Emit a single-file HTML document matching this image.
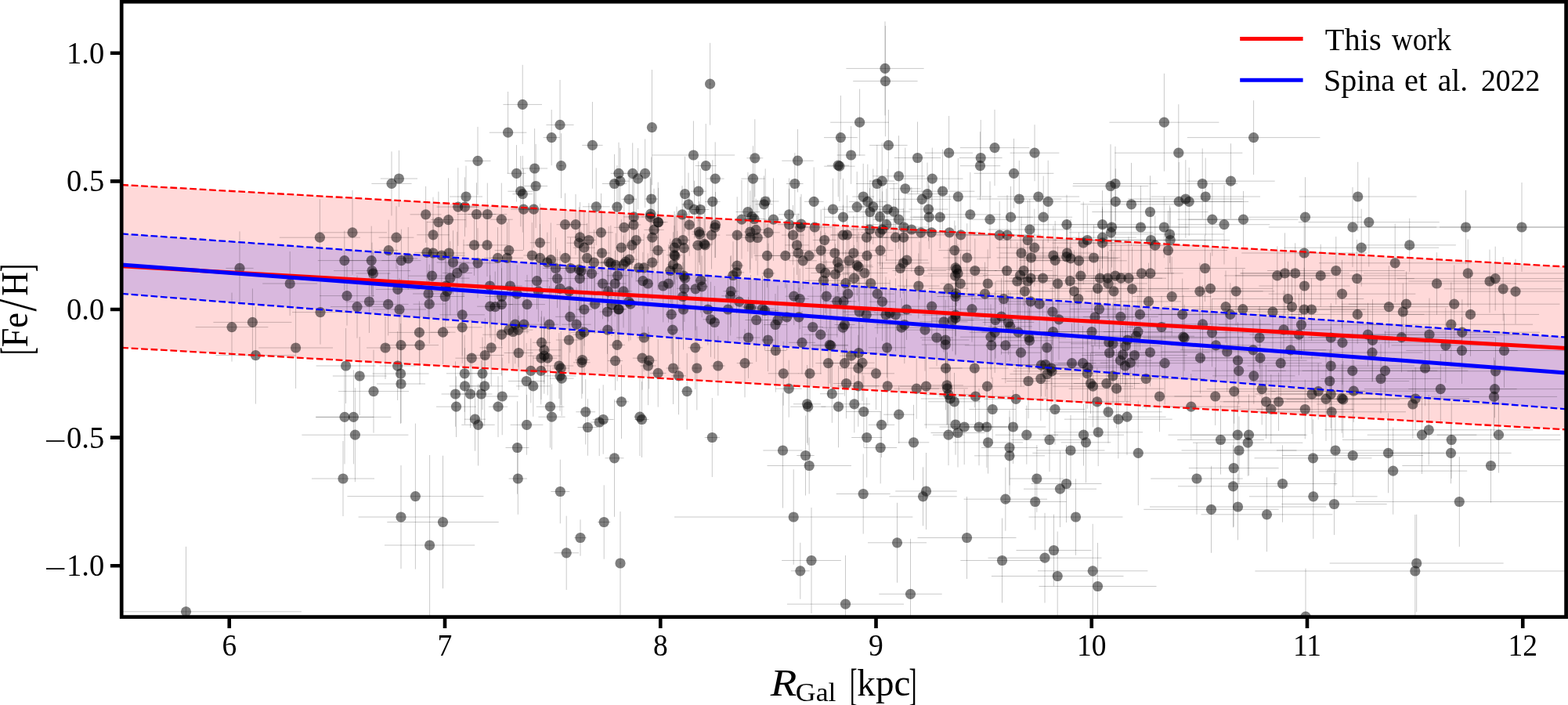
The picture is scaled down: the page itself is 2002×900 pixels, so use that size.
<!DOCTYPE html>
<html lang="en"><head><meta charset="utf-8"><title>[Fe/H] vs R_Gal</title>
<style>html,body{margin:0;padding:0;background:#fff;}body{width:2002px;height:900px;overflow:hidden;}svg{display:block;}text{font-family:"Liberation Serif",serif;fill:#000;}</style></head><body>
<svg width="2002" height="900" viewBox="0 0 2002 900">
<rect width="2002" height="900" fill="#fff"/>
<defs><clipPath id="ax"><rect x="155.2" y="2.2" width="1844.4" height="785.4"/></clipPath></defs>
<g clip-path="url(#ax)">
<polygon points="155.2,236.0 1999.6,340.5 1999.6,548.4 155.2,443.9" fill="#ff0000" fill-opacity="0.15"/>
<polygon points="155.2,298.4 1999.6,430.5 1999.6,522.3 155.2,374.9" fill="#0000ff" fill-opacity="0.15"/>
<g fill="none" stroke="#000" stroke-opacity="0.21" stroke-width="1">
<path d="M642.4 133.4H692.0"/><path d="M667.2 82.8V184.0"/>
<path d="M624.8 169.2H672.4"/><path d="M648.6 117.0V221.4"/>
<path d="M697.4 159.4H732.6"/><path d="M715.0 102.0V216.8"/>
<path d="M693.6 175.6H714.8"/><path d="M704.2 140.0V211.2"/>
<path d="M743.2 185.4H769.6"/><path d="M756.4 130.0V240.8"/>
<path d="M831.4 162.6H833.4"/><path d="M832.4 89.0V236.2"/>
<path d="M905.6 107.2H907.6"/><path d="M906.6 54.8V159.6"/>
<path d="M832.6 198.0H938.2"/><path d="M885.4 154.4V241.6"/>
<path d="M1080.4 87.4H1179.6"/><path d="M1130.0 27.4V147.4"/>
<path d="M1089.2 103.6H1171.6"/><path d="M1130.4 33.0V174.2"/>
<path d="M1060.2 156.2H1135.0"/><path d="M1097.6 113.6V198.8"/>
<path d="M1052.0 175.6H1094.8"/><path d="M1073.4 122.0V229.2"/>
<path d="M1110.2 185.4H1158.6"/><path d="M1134.4 140.0V230.8"/>
<path d="M1181.0 195.2H1242.2"/><path d="M1211.6 148.0V242.4"/>
<path d="M1225.8 188.6H1314.2"/><path d="M1270.0 140.0V237.2"/>
<path d="M1289.6 195.2H1352.4"/><path d="M1321.0 159.2V231.2"/>
<path d="M1068.6 198.0H1104.6"/><path d="M1086.6 161.0V235.0"/>
<path d="M1416.4 156.2H1556.4"/><path d="M1486.4 93.8V218.6"/>
<path d="M1515.8 175.6H1685.4"/><path d="M1600.6 128.2V223.0"/>
<path d="M1423.2 195.2H1586.4"/><path d="M1504.8 133.2V257.2"/>
<path d="M485.8 228.0H533.0"/><path d="M509.4 192.0V264.0"/>
<path d="M474.4 234.4H525.6"/><path d="M500.0 193.4V275.4"/>
<path d="M523.6 273.8H563.6"/><path d="M543.6 237.8V309.8"/>
<path d="M356.8 303.2H460.0"/><path d="M408.4 254.2V352.2"/>
<path d="M406.0 296.8H494.0"/><path d="M450.0 242.8V350.8"/>
<path d="M483.6 303.2H528.4"/><path d="M506.0 263.2V343.2"/>
<path d="M484.2 319.6H508.2"/><path d="M496.2 280.6V358.6"/>
<path d="M405.8 332.6H473.8"/><path d="M439.8 294.6V370.6"/>
<path d="M440.2 332.6H508.2"/><path d="M474.2 288.6V376.6"/>
<path d="M487.4 332.6H537.4"/><path d="M512.4 292.6V372.6"/>
<path d="M509.2 330.0H533.2"/><path d="M521.2 290.0V370.0"/>
<path d="M529.0 322.4H561.0"/><path d="M545.0 282.4V362.4"/>
<path d="M426.0 345.6H524.0"/><path d="M475.0 309.6V381.6"/>
<path d="M454.4 349.0H498.4"/><path d="M476.4 319.0V379.0"/>
<path d="M288.4 342.4H323.6"/><path d="M306.0 295.4V389.4"/>
<path d="M335.2 362.0H405.2"/><path d="M370.2 321.0V403.0"/>
<path d="M479.8 369.4H535.8"/><path d="M507.8 339.4V399.4"/>
<path d="M408.0 377.6H478.0"/><path d="M443.0 339.6V415.6"/>
<path d="M527.0 375.0H567.0"/><path d="M547.0 345.0V405.0"/>
<path d="M441.4 385.0H501.4"/><path d="M471.4 345.0V425.0"/>
<path d="M422.0 391.6H490.0"/><path d="M456.0 351.6V431.6"/>
<path d="M469.6 388.4H521.6"/><path d="M495.6 348.4V428.4"/>
<path d="M476.0 395.0H544.0"/><path d="M510.0 355.0V435.0"/>
<path d="M373.0 398.6H445.0"/><path d="M409.0 357.6V439.6"/>
<path d="M272.4 411.4H372.4"/><path d="M322.4 368.4V454.4"/>
<path d="M249.6 417.6H342.4"/><path d="M296.0 373.6V461.6"/>
<path d="M496.4 424.4H574.4"/><path d="M535.4 384.4V464.4"/>
<path d="M330.2 444.0H425.0"/><path d="M377.6 392.0V496.0"/>
<path d="M468.0 444.0H516.0"/><path d="M492.0 404.0V484.0"/>
<path d="M492.0 440.6H532.0"/><path d="M512.0 390.6V490.6"/>
<path d="M512.0 440.6H560.0"/><path d="M536.0 390.6V490.6"/>
<path d="M275.4 453.6H377.4"/><path d="M326.4 391.6V515.6"/>
<path d="M403.6 467.0H479.6"/><path d="M441.6 419.0V515.0"/>
<path d="M484.6 467.0H530.6"/><path d="M507.6 423.0V511.0"/>
<path d="M475.6 477.0H547.6"/><path d="M511.6 413.0V541.0"/>
<path d="M424.8 480.0H493.6"/><path d="M459.2 430.0V530.0"/>
<path d="M481.0 490.0H543.0"/><path d="M512.0 440.0V540.0"/>
<path d="M432.0 499.6H522.0"/><path d="M477.0 446.6V552.6"/>
<path d="M403.0 532.4H477.0"/><path d="M440.0 472.4V592.4"/>
<path d="M403.4 532.4H499.4"/><path d="M451.4 472.4V592.4"/>
<path d="M385.4 555.2H521.4"/><path d="M453.4 495.2V615.2"/>
<path d="M398.0 611.0H478.0"/><path d="M438.0 563.0V659.0"/>
<path d="M443.4 633.6H617.4"/><path d="M530.4 540.6V726.6"/>
<path d="M457.6 660.0H566.4"/><path d="M512.0 594.0V726.0"/>
<path d="M491.0 696.0H606.2"/><path d="M548.6 581.0V811.0"/>
<path d="M90.1 780.8H384.9"/><path d="M237.5 697.8V863.8"/>
<path d="M593.5 205.4H626.5"/><path d="M610.0 161.9V248.9"/>
<path d="M647.5 221.3H671.5"/><path d="M659.5 185.1V257.5"/>
<path d="M666.1 215.0H699.1"/><path d="M682.6 164.1V265.9"/>
<path d="M713.5 211.6H719.5"/><path d="M716.5 170.2V253.0"/>
<path d="M779.6 221.3H800.4"/><path d="M790.0 181.8V260.8"/>
<path d="M796.5 221.3H818.9"/><path d="M807.7 182.4V260.2"/>
<path d="M816.5 221.3H830.7"/><path d="M823.6 177.5V265.1"/>
<path d="M803.8 228.2H825.4"/><path d="M814.6 189.1V267.3"/>
<path d="M779.9 231.2H803.7"/><path d="M791.8 188.8V273.6"/>
<path d="M768.8 234.5H800.2"/><path d="M784.5 196.9V272.1"/>
<path d="M669.1 237.5H699.1"/><path d="M684.1 183.9V291.1"/>
<path d="M648.4 244.2H681.2"/><path d="M664.8 199.1V289.3"/>
<path d="M654.4 247.7H680.2"/><path d="M667.3 198.8V296.6"/>
<path d="M574.0 251.0H616.0"/><path d="M595.0 211.6V290.4"/>
<path d="M793.6 254.3H812.8"/><path d="M803.2 217.9V290.7"/>
<path d="M823.3 254.0H840.1"/><path d="M831.7 200.6V307.4"/>
<path d="M743.8 263.8H778.6"/><path d="M761.2 214.4V313.2"/>
<path d="M780.5 264.1H795.3"/><path d="M787.9 211.2V317.0"/>
<path d="M557.5 264.1H612.1"/><path d="M584.8 214.2V314.0"/>
<path d="M577.5 264.1H609.5"/><path d="M593.5 226.3V301.9"/>
<path d="M652.2 267.1H684.8"/><path d="M668.5 215.2V319.0"/>
<path d="M663.8 267.1H699.2"/><path d="M681.5 217.8V316.4"/>
<path d="M823.1 273.2H838.5"/><path d="M830.8 227.8V318.6"/>
<path d="M819.2 276.8H841.2"/><path d="M830.2 226.0V327.6"/>
<path d="M583.6 273.5H633.4"/><path d="M608.5 233.3V313.7"/>
<path d="M597.3 273.5H647.3"/><path d="M622.3 233.6V313.4"/>
<path d="M796.3 276.9H822.1"/><path d="M809.2 230.9V322.9"/>
<path d="M625.9 280.2H654.7"/><path d="M640.3 233.6V326.8"/>
<path d="M550.2 280.6H594.8"/><path d="M572.5 227.3V333.9"/>
<path d="M544.9 283.6H574.9"/><path d="M559.9 244.6V322.6"/>
<path d="M827.9 283.6H852.5"/><path d="M840.2 232.6V334.6"/>
<path d="M710.5 286.7H732.5"/><path d="M721.5 246.6V326.8"/>
<path d="M720.4 286.7H749.6"/><path d="M735.0 247.9V325.5"/>
<path d="M799.8 287.0H818.2"/><path d="M809.0 250.1V323.9"/>
<path d="M783.9 290.3H809.7"/><path d="M796.8 252.9V327.7"/>
<path d="M822.3 293.4H847.7"/><path d="M835.0 240.8V346.0"/>
<path d="M752.2 296.8H782.8"/><path d="M767.5 246.9V346.7"/>
<path d="M532.3 299.8H573.7"/><path d="M553.0 251.6V348.0"/>
<path d="M723.9 302.8H757.1"/><path d="M740.5 258.1V347.5"/>
<path d="M742.8 306.5H760.8"/><path d="M751.8 259.2V353.8"/>
<path d="M824.6 303.2H841.0"/><path d="M832.8 256.2V350.2"/>
<path d="M802.4 306.5H822.0"/><path d="M812.2 253.4V359.6"/>
<path d="M676.7 309.8H702.3"/><path d="M689.5 260.0V359.6"/>
<path d="M723.3 310.2H755.3"/><path d="M739.3 264.2V356.2"/>
<path d="M591.4 312.9H619.6"/><path d="M605.5 273.9V351.9"/>
<path d="M595.6 312.9H648.4"/><path d="M622.0 272.7V353.1"/>
<path d="M798.8 313.2H814.8"/><path d="M806.8 272.0V354.4"/>
<path d="M731.8 316.2H759.8"/><path d="M745.8 270.8V361.6"/>
<path d="M786.1 316.2H800.5"/><path d="M793.3 280.1V352.3"/>
<path d="M631.6 319.6H668.0"/><path d="M649.8 280.3V358.9"/>
<path d="M830.2 319.6H849.8"/><path d="M840.0 269.2V370.0"/>
<path d="M536.9 323.0H569.1"/><path d="M553.0 277.9V368.1"/>
<path d="M552.7 323.0H593.7"/><path d="M573.2 272.8V373.2"/>
<path d="M533.8 326.0H593.8"/><path d="M563.8 282.5V369.5"/>
<path d="M758.3 323.0H778.7"/><path d="M768.5 271.2V374.8"/>
<path d="M668.3 326.0H690.3"/><path d="M679.3 284.1V367.9"/>
<path d="M618.0 329.3H653.0"/><path d="M635.5 290.1V368.5"/>
<path d="M626.7 329.3H668.3"/><path d="M647.5 284.0V374.6"/>
<path d="M676.2 329.3H702.8"/><path d="M689.5 285.9V372.7"/>
<path d="M704.9 329.3H738.7"/><path d="M721.8 287.5V371.1"/>
<path d="M740.3 329.3H758.7"/><path d="M749.5 285.0V373.6"/>
<path d="M691.1 331.7H715.5"/><path d="M703.3 284.5V378.9"/>
<path d="M686.4 335.0H711.2"/><path d="M698.8 296.6V373.4"/>
<path d="M741.7 335.0H775.3"/><path d="M758.5 293.1V376.9"/>
<path d="M766.9 334.7H787.5"/><path d="M777.2 289.0V380.4"/>
<path d="M766.1 335.9H793.5"/><path d="M779.8 287.8V384.0"/>
<path d="M771.9 338.3H800.5"/><path d="M786.2 297.6V379.0"/>
<path d="M788.5 334.2H809.5"/><path d="M799.0 291.6V376.8"/>
<path d="M792.5 331.2H814.5"/><path d="M803.5 284.9V377.5"/>
<path d="M783.7 337.7H808.3"/><path d="M796.0 300.5V374.9"/>
<path d="M824.3 335.0H841.3"/><path d="M832.8 286.2V383.8"/>
<path d="M808.7 341.8H822.3"/><path d="M815.5 292.4V391.2"/>
<path d="M810.9 341.8H833.5"/><path d="M822.2 298.6V385.0"/>
<path d="M557.6 335.0H599.4"/><path d="M578.5 294.2V375.8"/>
<path d="M586.3 335.8H633.7"/><path d="M610.0 291.2V380.4"/>
<path d="M574.6 342.2H609.4"/><path d="M592.0 305.7V378.7"/>
<path d="M564.8 348.5H602.8"/><path d="M583.8 295.9V401.1"/>
<path d="M550.1 355.2H599.5"/><path d="M574.8 307.9V402.5"/>
<path d="M521.1 352.2H581.9"/><path d="M551.5 315.6V388.8"/>
<path d="M692.9 342.5H726.1"/><path d="M709.5 303.1V381.9"/>
<path d="M715.1 342.5H741.9"/><path d="M728.5 303.2V381.8"/>
<path d="M726.9 344.0H751.7"/><path d="M739.3 291.8V396.2"/>
<path d="M725.9 345.8H758.1"/><path d="M742.0 294.6V397.0"/>
<path d="M746.4 349.2H764.6"/><path d="M755.5 307.8V390.6"/>
<path d="M774.5 351.8H802.5"/><path d="M788.5 315.1V388.5"/>
<path d="M699.7 355.6H723.3"/><path d="M711.5 318.1V393.1"/>
<path d="M723.0 355.6H757.4"/><path d="M740.2 315.4V395.8"/>
<path d="M669.9 358.6H701.1"/><path d="M685.5 322.4V394.8"/>
<path d="M760.6 362.0H778.4"/><path d="M769.5 316.7V407.3"/>
<path d="M770.9 362.0H799.5"/><path d="M785.2 319.9V404.1"/>
<path d="M812.1 358.6H829.5"/><path d="M820.8 321.9V395.3"/>
<path d="M820.4 362.0H834.0"/><path d="M827.2 323.3V400.7"/>
<path d="M839.8 365.0H853.6"/><path d="M846.7 318.7V411.3"/>
<path d="M608.1 365.0H642.9"/><path d="M625.5 311.4V418.6"/>
<path d="M636.1 365.0H666.7"/><path d="M651.4 313.6V416.4"/>
<path d="M554.0 365.0H585.0"/><path d="M569.5 319.5V410.5"/>
<path d="M699.3 368.3H730.7"/><path d="M715.0 320.5V416.1"/>
<path d="M713.1 371.8H740.3"/><path d="M726.7 326.4V417.2"/>
<path d="M761.9 371.8H791.1"/><path d="M776.5 333.1V410.5"/>
<path d="M784.5 371.8H807.5"/><path d="M796.0 325.2V418.4"/>
<path d="M667.5 371.8H707.3"/><path d="M687.4 332.9V410.7"/>
<path d="M550.3 371.8H591.7"/><path d="M571.0 335.4V408.2"/>
<path d="M543.4 378.5H593.2"/><path d="M568.3 326.9V430.1"/>
<path d="M527.5 388.2H568.9"/><path d="M548.2 337.5V438.9"/>
<path d="M619.6 378.5H661.4"/><path d="M640.5 342.2V414.8"/>
<path d="M642.8 375.2H677.6"/><path d="M660.2 338.4V412.0"/>
<path d="M793.4 385.2H812.2"/><path d="M802.8 334.8V435.6"/>
<path d="M797.2 388.2H812.8"/><path d="M805.0 342.0V434.4"/>
<path d="M750.8 388.2H768.2"/><path d="M759.5 350.2V426.2"/>
<path d="M650.1 388.6H695.9"/><path d="M673.0 350.9V426.3"/>
<path d="M626.3 388.6H654.7"/><path d="M640.5 335.7V441.5"/>
<path d="M609.1 391.2H642.5"/><path d="M625.8 351.3V431.1"/>
<path d="M618.8 391.6H645.6"/><path d="M632.2 346.6V436.6"/>
<path d="M772.9 389.0H789.1"/><path d="M781.0 349.0V429.0"/>
<path d="M780.5 395.0H798.9"/><path d="M789.7 345.6V444.4"/>
<path d="M735.7 395.0H756.1"/><path d="M745.9 348.4V441.6"/>
<path d="M765.6 398.0H785.4"/><path d="M775.5 344.1V451.9"/>
<path d="M561.4 401.8H619.0"/><path d="M590.2 349.2V454.4"/>
<path d="M709.1 404.3H746.7"/><path d="M727.9 358.3V450.3"/>
<path d="M717.4 414.2H754.6"/><path d="M736.0 366.7V461.7"/>
<path d="M689.7 414.2H713.3"/><path d="M701.5 365.0V463.4"/>
<path d="M647.2 414.2H690.8"/><path d="M669.0 377.9V450.5"/>
<path d="M643.8 414.2H671.6"/><path d="M657.7 364.1V464.3"/>
<path d="M564.9 417.8H615.5"/><path d="M590.2 371.7V463.9"/>
<path d="M549.4 424.2H581.6"/><path d="M565.5 383.4V465.0"/>
<path d="M766.0 421.2H785.6"/><path d="M775.8 367.5V474.9"/>
<path d="M635.2 421.2H664.4"/><path d="M649.8 378.5V463.9"/>
<path d="M634.5 423.5H675.5"/><path d="M655.0 375.6V471.4"/>
<path d="M643.3 421.2H680.3"/><path d="M661.8 373.5V468.9"/>
<path d="M728.5 424.2H763.1"/><path d="M745.8 371.7V476.7"/>
<path d="M731.3 427.2H751.1"/><path d="M741.2 390.7V463.7"/>
<path d="M616.1 427.2H664.9"/><path d="M640.5 374.8V479.6"/>
<path d="M813.2 431.0H831.2"/><path d="M822.2 387.8V474.2"/>
<path d="M709.8 434.0H743.0"/><path d="M726.4 390.4V477.6"/>
<path d="M679.9 437.3H703.1"/><path d="M691.5 396.8V477.8"/>
<path d="M778.1 440.4H797.9"/><path d="M788.0 394.2V486.6"/>
<path d="M612.5 443.8H641.9"/><path d="M627.2 394.7V492.9"/>
<path d="M673.1 446.8H716.5"/><path d="M694.8 403.9V489.7"/>
<path d="M643.6 450.5H680.8"/><path d="M662.2 403.0V498.0"/>
<path d="M595.2 453.5H643.4"/><path d="M619.3 406.2V500.8"/>
<path d="M581.4 457.2H623.0"/><path d="M602.2 408.2V506.2"/>
<path d="M680.4 457.2H701.6"/><path d="M691.0 404.3V510.1"/>
<path d="M674.0 454.2H715.6"/><path d="M694.8 405.7V502.7"/>
<path d="M686.8 457.2H711.6"/><path d="M699.2 409.9V504.5"/>
<path d="M734.5 459.5H752.5"/><path d="M743.5 416.3V502.7"/>
<path d="M731.9 462.8H753.7"/><path d="M742.8 416.7V508.9"/>
<path d="M775.9 460.6H795.1"/><path d="M785.5 422.9V498.3"/>
<path d="M807.8 457.2H832.2"/><path d="M820.0 416.7V497.7"/>
<path d="M818.6 460.2H838.8"/><path d="M828.7 423.9V496.5"/>
<path d="M817.4 467.0H837.6"/><path d="M827.5 416.8V517.2"/>
<path d="M695.4 467.0H732.2"/><path d="M713.8 425.1V508.9"/>
<path d="M705.3 470.0H727.1"/><path d="M716.2 423.0V517.0"/>
<path d="M663.3 473.3H692.3"/><path d="M677.8 432.2V514.4"/>
<path d="M677.9 473.3H703.5"/><path d="M690.7 430.2V516.4"/>
<path d="M829.9 476.4H850.5"/><path d="M840.2 433.2V519.6"/>
<path d="M569.9 476.8H616.5"/><path d="M593.2 427.7V525.9"/>
<path d="M591.5 476.8H640.5"/><path d="M616.0 430.5V523.1"/>
<path d="M694.4 479.8H735.6"/><path d="M715.0 434.8V524.8"/>
<path d="M701.8 483.1H732.6"/><path d="M717.2 435.3V530.9"/>
<path d="M649.0 486.5H695.4"/><path d="M672.2 437.9V535.1"/>
<path d="M658.9 492.9H702.7"/><path d="M680.8 454.0V531.8"/>
<path d="M573.7 492.9H613.3"/><path d="M593.5 444.2V541.6"/>
<path d="M595.5 492.9H641.9"/><path d="M618.7 442.0V543.8"/>
<path d="M563.6 503.0H599.4"/><path d="M581.5 461.3V544.7"/>
<path d="M581.2 503.0H619.8"/><path d="M600.5 459.9V546.1"/>
<path d="M600.5 503.0H628.5"/><path d="M614.5 460.0V546.0"/>
<path d="M620.5 506.0H661.9"/><path d="M641.2 456.7V555.3"/>
<path d="M784.4 512.8H802.6"/><path d="M793.5 465.6V560.0"/>
<path d="M557.0 519.2H608.0"/><path d="M582.5 480.4V558.0"/>
<path d="M623.8 519.2H648.2"/><path d="M636.0 480.3V558.1"/>
<path d="M684.7 519.2H720.3"/><path d="M702.5 466.8V571.6"/>
<path d="M735.3 525.8H760.1"/><path d="M747.7 484.2V567.4"/>
<path d="M687.4 532.2H721.6"/><path d="M704.5 490.5V573.9"/>
<path d="M593.0 535.2H620.0"/><path d="M606.5 494.8V575.6"/>
<path d="M756.8 535.5H783.6"/><path d="M770.2 491.3V579.7"/>
<path d="M753.9 539.0H776.5"/><path d="M765.2 495.9V582.1"/>
<path d="M809.5 532.2H824.5"/><path d="M817.0 482.4V582.0"/>
<path d="M810.4 535.5H828.6"/><path d="M819.5 487.1V583.9"/>
<path d="M589.3 542.3H631.7"/><path d="M610.5 490.1V594.5"/>
<path d="M651.6 542.3H693.4"/><path d="M672.5 503.9V580.7"/>
<path d="M737.5 545.5H763.3"/><path d="M750.4 509.3V581.7"/>
<path d="M645.5 571.5H675.5"/><path d="M660.5 512.3V630.7"/>
<path d="M649.6 611.0H673.0"/><path d="M661.3 565.2V656.8"/>
<path d="M703.3 627.5H727.3"/><path d="M715.3 586.7V668.3"/>
<path d="M772.5 584.8H796.5"/><path d="M784.5 509.8V659.8"/>
<path d="M494.3 666.5H636.7"/><path d="M565.5 581.7V751.3"/>
<path d="M763.0 666.5H779.4"/><path d="M771.2 619.3V713.7"/>
<path d="M733.2 686.5H748.8"/><path d="M741.0 663.3V709.7"/>
<path d="M707.4 705.8H739.0"/><path d="M723.2 658.6V753.0"/>
<path d="M791.2 719.0H792.8"/><path d="M792.0 653.0V785.0"/>
<path d="M953.3 201.8H974.3"/><path d="M963.8 152.2V251.4"/>
<path d="M998.3 205.2H1038.7"/><path d="M1018.5 165.0V245.4"/>
<path d="M887.7 211.6H914.7"/><path d="M901.2 158.0V265.2"/>
<path d="M1056.0 211.2H1084.4"/><path d="M1070.2 171.1V251.3"/>
<path d="M1052.2 212.2H1091.6"/><path d="M1071.9 167.4V257.0"/>
<path d="M901.8 228.1H924.6"/><path d="M913.2 181.4V274.8"/>
<path d="M946.3 228.1H976.7"/><path d="M961.5 186.3V269.9"/>
<path d="M1004.0 234.5H1025.6"/><path d="M1014.8 195.2V273.8"/>
<path d="M1110.2 231.1H1142.2"/><path d="M1126.2 182.4V279.8"/>
<path d="M1093.1 234.5H1146.5"/><path d="M1119.8 184.9V284.1"/>
<path d="M881.9 244.2H901.7"/><path d="M891.8 205.9V282.5"/>
<path d="M869.3 247.6H879.7"/><path d="M874.5 199.7V295.5"/>
<path d="M1088.3 251.0H1116.1"/><path d="M1102.2 208.9V293.1"/>
<path d="M1083.9 257.4H1131.7"/><path d="M1107.8 209.7V305.1"/>
<path d="M900.0 257.4H919.6"/><path d="M909.8 204.3V310.5"/>
<path d="M959.9 257.0H994.5"/><path d="M977.2 215.4V298.6"/>
<path d="M964.5 260.8H986.5"/><path d="M975.5 224.4V297.2"/>
<path d="M1026.9 257.3H1051.5"/><path d="M1039.2 213.4V301.2"/>
<path d="M870.4 260.8H887.6"/><path d="M879.0 220.6V301.0"/>
<path d="M1098.6 263.8H1131.0"/><path d="M1114.8 215.5V312.1"/>
<path d="M1070.1 264.1H1118.3"/><path d="M1094.2 219.1V309.1"/>
<path d="M1049.6 267.2H1077.4"/><path d="M1063.5 227.7V306.7"/>
<path d="M1112.8 267.2H1153.6"/><path d="M1133.2 215.8V318.6"/>
<path d="M875.9 267.5H897.1"/><path d="M886.5 230.7V304.3"/>
<path d="M883.3 267.5H905.3"/><path d="M894.3 215.1V319.9"/>
<path d="M1083.2 270.5H1138.4"/><path d="M1110.8 230.3V310.7"/>
<path d="M939.5 270.5H970.3"/><path d="M954.9 219.9V321.1"/>
<path d="M865.4 273.8H876.6"/><path d="M871.0 237.2V310.4"/>
<path d="M994.0 273.8H1021.0"/><path d="M1007.5 227.4V320.2"/>
<path d="M952.4 276.5H967.6"/><path d="M960.0 223.3V329.7"/>
<path d="M949.5 279.5H976.5"/><path d="M963.0 234.2V324.8"/>
<path d="M1099.9 276.9H1147.1"/><path d="M1123.5 239.0V314.8"/>
<path d="M1052.9 277.2H1100.1"/><path d="M1076.5 227.9V326.5"/>
<path d="M939.9 280.2H954.1"/><path d="M947.0 229.7V330.7"/>
<path d="M975.4 280.2H999.6"/><path d="M987.5 227.4V333.0"/>
<path d="M873.3 287.0H887.1"/><path d="M880.2 247.2V326.8"/>
<path d="M906.4 287.0H920.6"/><path d="M913.5 245.0V329.0"/>
<path d="M906.5 290.3H919.1"/><path d="M912.8 251.4V329.2"/>
<path d="M992.9 286.7H1022.1"/><path d="M1007.5 240.8V332.6"/>
<path d="M1006.4 286.2H1039.6"/><path d="M1023.0 247.8V324.6"/>
<path d="M1011.5 290.0H1032.1"/><path d="M1021.8 251.4V328.6"/>
<path d="M1017.9 290.0H1062.5"/><path d="M1040.2 251.5V328.5"/>
<path d="M1104.0 286.7H1159.6"/><path d="M1131.8 240.7V332.7"/>
<path d="M1086.1 293.0H1134.9"/><path d="M1110.5 240.1V345.9"/>
<path d="M1106.8 293.0H1146.2"/><path d="M1126.5 244.4V341.6"/>
<path d="M1099.4 296.8H1147.6"/><path d="M1123.5 254.2V339.4"/>
<path d="M954.0 293.3H976.4"/><path d="M965.2 253.7V332.9"/>
<path d="M949.6 296.0H966.0"/><path d="M957.8 243.4V348.6"/>
<path d="M883.4 296.0H901.6"/><path d="M892.5 256.9V335.1"/>
<path d="M883.2 299.0H903.6"/><path d="M893.4 259.7V338.3"/>
<path d="M966.3 296.8H995.7"/><path d="M981.0 250.2V343.4"/>
<path d="M897.6 300.1H919.4"/><path d="M908.5 256.7V343.5"/>
<path d="M926.9 300.1H955.5"/><path d="M941.2 251.2V349.0"/>
<path d="M997.9 300.1H1027.1"/><path d="M1012.5 261.9V338.3"/>
<path d="M1060.1 300.1H1092.9"/><path d="M1076.5 261.7V338.5"/>
<path d="M1060.8 299.8H1102.2"/><path d="M1081.5 249.3V350.3"/>
<path d="M1080.2 303.2H1132.8"/><path d="M1106.5 255.7V350.7"/>
<path d="M946.8 303.2H968.8"/><path d="M957.8 262.2V344.2"/>
<path d="M952.2 303.5H982.2"/><path d="M967.2 255.4V351.6"/>
<path d="M863.5 306.5H880.5"/><path d="M872.0 260.5V352.5"/>
<path d="M854.4 310.2H873.6"/><path d="M864.0 263.6V356.8"/>
<path d="M1037.7 306.5H1067.7"/><path d="M1052.7 263.8V349.2"/>
<path d="M883.9 313.2H898.1"/><path d="M891.0 271.9V354.5"/>
<path d="M888.1 311.3H910.3"/><path d="M899.2 262.5V360.1"/>
<path d="M891.0 312.8H909.6"/><path d="M900.3 268.7V356.9"/>
<path d="M1002.1 312.9H1032.9"/><path d="M1017.5 275.0V350.8"/>
<path d="M853.1 316.2H868.9"/><path d="M861.0 269.6V362.8"/>
<path d="M866.5 316.7H880.1"/><path d="M873.3 271.6V361.8"/>
<path d="M1023.9 319.6H1072.5"/><path d="M1048.2 267.2V372.0"/>
<path d="M1107.6 319.6H1140.4"/><path d="M1124.0 266.6V372.6"/>
<path d="M1000.1 323.0H1038.3"/><path d="M1019.2 272.4V373.6"/>
<path d="M1042.4 323.0H1089.2"/><path d="M1065.8 283.2V362.8"/>
<path d="M1074.5 323.0H1105.1"/><path d="M1089.8 275.4V370.6"/>
<path d="M851.0 325.7H871.0"/><path d="M861.0 287.9V363.5"/>
<path d="M856.8 326.8H867.2"/><path d="M862.0 273.8V379.8"/>
<path d="M962.6 326.4H996.4"/><path d="M979.5 285.7V367.1"/>
<path d="M984.7 326.4H1020.9"/><path d="M1002.8 285.0V367.8"/>
<path d="M1012.1 326.4H1053.9"/><path d="M1033.0 290.2V362.6"/>
<path d="M1082.8 326.4H1131.2"/><path d="M1107.0 286.4V366.4"/>
<path d="M1007.5 332.8H1042.9"/><path d="M1025.2 296.3V369.3"/>
<path d="M1048.0 334.7H1091.0"/><path d="M1069.5 296.9V372.5"/>
<path d="M1064.1 332.8H1103.5"/><path d="M1083.8 295.5V370.1"/>
<path d="M1074.7 338.8H1113.7"/><path d="M1094.2 300.0V377.6"/>
<path d="M1077.4 340.7H1115.0"/><path d="M1096.2 296.2V385.2"/>
<path d="M1028.0 342.5H1067.6"/><path d="M1047.8 295.1V389.9"/>
<path d="M1035.3 348.5H1072.3"/><path d="M1053.8 297.2V399.8"/>
<path d="M1048.6 350.0H1084.4"/><path d="M1066.5 311.4V388.6"/>
<path d="M1048.8 341.8H1093.2"/><path d="M1071.0 299.4V384.2"/>
<path d="M1074.8 348.5H1133.2"/><path d="M1104.0 305.5V391.5"/>
<path d="M1077.0 355.2H1104.0"/><path d="M1090.5 313.0V397.4"/>
<path d="M1027.3 358.2H1075.7"/><path d="M1051.5 313.6V402.8"/>
<path d="M1054.7 361.7H1104.7"/><path d="M1079.7 319.1V404.3"/>
<path d="M1087.2 361.7H1136.4"/><path d="M1111.8 324.3V399.1"/>
<path d="M932.9 339.1H949.5"/><path d="M941.2 301.2V377.0"/>
<path d="M851.9 338.0H867.1"/><path d="M859.5 296.2V379.8"/>
<path d="M856.6 342.5H873.0"/><path d="M864.8 294.8V390.2"/>
<path d="M849.1 345.5H862.5"/><path d="M855.8 304.7V386.3"/>
<path d="M972.5 348.9H989.5"/><path d="M981.0 310.7V387.1"/>
<path d="M930.8 347.8H950.2"/><path d="M940.5 295.6V400.0"/>
<path d="M928.0 351.5H944.0"/><path d="M936.0 308.2V394.8"/>
<path d="M868.1 352.2H877.9"/><path d="M873.0 305.6V398.8"/>
<path d="M867.3 355.2H881.7"/><path d="M874.5 313.2V397.2"/>
<path d="M887.1 358.2H902.5"/><path d="M894.8 317.3V399.1"/>
<path d="M888.4 365.8H904.0"/><path d="M896.2 326.5V405.1"/>
<path d="M878.6 368.8H897.4"/><path d="M888.0 316.0V421.6"/>
<path d="M863.9 368.3H883.7"/><path d="M873.8 325.7V410.9"/>
<path d="M848.1 362.0H858.9"/><path d="M853.5 312.2V411.8"/>
<path d="M923.4 371.8H943.2"/><path d="M933.3 326.0V417.6"/>
<path d="M921.3 377.8H944.1"/><path d="M932.7 327.2V428.4"/>
<path d="M864.1 378.5H879.5"/><path d="M871.8 334.7V422.3"/>
<path d="M1002.6 378.2H1024.8"/><path d="M1013.7 341.4V415.0"/>
<path d="M1009.3 381.5H1033.1"/><path d="M1021.2 342.7V420.3"/>
<path d="M1030.9 378.2H1079.5"/><path d="M1055.2 332.0V424.4"/>
<path d="M1069.4 375.2H1096.0"/><path d="M1082.7 333.5V416.9"/>
<path d="M1098.2 375.2H1142.2"/><path d="M1120.2 324.2V426.2"/>
<path d="M1050.7 384.8H1086.9"/><path d="M1068.8 339.0V430.6"/>
<path d="M1060.5 384.8H1093.5"/><path d="M1077.0 343.0V426.6"/>
<path d="M1109.9 385.2H1143.1"/><path d="M1126.5 335.1V435.3"/>
<path d="M933.1 385.2H954.5"/><path d="M943.8 336.0V434.4"/>
<path d="M944.0 391.7H968.4"/><path d="M956.2 354.1V429.3"/>
<path d="M948.8 392.8H968.2"/><path d="M958.5 351.0V434.6"/>
<path d="M958.3 394.2H988.7"/><path d="M973.5 352.0V436.4"/>
<path d="M959.3 396.5H993.7"/><path d="M976.5 346.2V446.8"/>
<path d="M893.8 395.0H913.8"/><path d="M903.8 349.4V440.6"/>
<path d="M918.1 395.0H940.9"/><path d="M929.5 352.9V437.1"/>
<path d="M867.1 395.0H877.9"/><path d="M872.5 343.6V446.4"/>
<path d="M1076.2 398.0H1118.2"/><path d="M1097.2 344.8V451.2"/>
<path d="M1080.0 401.8H1132.4"/><path d="M1106.2 355.5V448.1"/>
<path d="M1107.9 401.8H1154.1"/><path d="M1131.0 353.4V450.2"/>
<path d="M1116.1 399.5H1156.3"/><path d="M1136.2 357.1V441.9"/>
<path d="M850.0 401.4H864.4"/><path d="M857.2 350.7V452.1"/>
<path d="M999.0 404.8H1041.0"/><path d="M1020.0 367.1V442.5"/>
<path d="M995.2 404.8H1014.2"/><path d="M1004.7 362.5V447.1"/>
<path d="M977.2 408.5H1008.8"/><path d="M993.0 364.6V452.4"/>
<path d="M951.3 408.5H980.1"/><path d="M965.7 355.1V461.9"/>
<path d="M897.5 407.8H917.5"/><path d="M907.5 359.8V455.8"/>
<path d="M905.6 411.5H919.0"/><path d="M912.3 365.0V458.0"/>
<path d="M975.0 414.5H1005.0"/><path d="M990.0 375.0V454.0"/>
<path d="M1065.4 414.5H1091.6"/><path d="M1078.5 366.3V462.7"/>
<path d="M1049.0 418.2H1103.4"/><path d="M1076.2 370.6V465.8"/>
<path d="M1024.4 417.5H1051.0"/><path d="M1037.7 365.8V469.2"/>
<path d="M851.7 421.2H865.9"/><path d="M858.8 379.1V463.3"/>
<path d="M1025.9 427.2H1069.7"/><path d="M1047.8 376.9V477.5"/>
<path d="M940.3 431.0H970.7"/><path d="M955.5 379.1V482.9"/>
<path d="M972.2 434.0H988.8"/><path d="M980.5 393.9V474.1"/>
<path d="M1007.0 437.3H1041.0"/><path d="M1024.0 397.1V477.5"/>
<path d="M1035.8 440.3H1082.8"/><path d="M1059.3 391.0V489.6"/>
<path d="M1038.5 441.2H1083.1"/><path d="M1060.8 388.2V494.2"/>
<path d="M878.4 443.8H897.0"/><path d="M887.7 390.5V497.1"/>
<path d="M1108.6 443.8H1156.4"/><path d="M1132.5 405.4V482.2"/>
<path d="M976.4 447.5H1004.2"/><path d="M990.3 394.4V500.6"/>
<path d="M1073.1 450.5H1119.9"/><path d="M1096.5 408.7V492.3"/>
<path d="M1072.2 454.2H1101.4"/><path d="M1086.8 415.8V492.6"/>
<path d="M1085.2 463.2H1116.8"/><path d="M1101.0 414.4V512.0"/>
<path d="M1041.3 463.6H1073.7"/><path d="M1057.5 419.8V507.4"/>
<path d="M1051.3 463.6H1105.7"/><path d="M1078.5 421.6V505.6"/>
<path d="M1071.9 470.0H1119.7"/><path d="M1095.8 427.7V512.3"/>
<path d="M940.7 463.6H961.3"/><path d="M951.0 419.9V507.3"/>
<path d="M907.8 467.0H925.8"/><path d="M916.8 428.9V505.1"/>
<path d="M850.5 470.0H868.5"/><path d="M859.5 424.0V516.0"/>
<path d="M884.0 470.0H895.6"/><path d="M889.8 416.5V523.5"/>
<path d="M980.7 476.8H1019.7"/><path d="M1000.2 435.9V517.7"/>
<path d="M1019.2 476.8H1048.8"/><path d="M1034.0 426.7V526.9"/>
<path d="M1095.0 476.8H1142.0"/><path d="M1118.5 430.6V523.0"/>
<path d="M857.2 479.8H875.8"/><path d="M866.5 430.3V529.3"/>
<path d="M1063.7 489.5H1097.3"/><path d="M1080.5 444.7V534.3"/>
<path d="M1069.4 492.8H1122.2"/><path d="M1095.8 440.9V544.7"/>
<path d="M1102.0 492.8H1164.4"/><path d="M1133.2 442.4V543.2"/>
<path d="M990.6 496.2H1023.8"/><path d="M1007.2 459.7V532.7"/>
<path d="M870.2 499.6H884.2"/><path d="M877.2 450.8V548.4"/>
<path d="M1047.0 502.7H1077.6"/><path d="M1062.3 465.6V539.8"/>
<path d="M1012.9 515.8H1048.1"/><path d="M1030.5 466.0V565.6"/>
<path d="M1009.1 519.2H1054.3"/><path d="M1031.7 470.1V568.3"/>
<path d="M1070.5 515.8H1111.1"/><path d="M1090.8 479.2V552.4"/>
<path d="M1048.4 519.2H1092.6"/><path d="M1070.5 467.1V571.3"/>
<path d="M1080.5 525.5H1125.1"/><path d="M1102.8 479.4V571.6"/>
<path d="M1108.8 542.3H1142.2"/><path d="M1125.5 500.5V584.1"/>
<path d="M899.7 558.5H918.9"/><path d="M909.3 508.0V609.0"/>
<path d="M1087.2 558.5H1126.2"/><path d="M1106.7 507.5V609.5"/>
<path d="M974.3 575.0H1024.7"/><path d="M999.5 501.5V648.5"/>
<path d="M1103.2 571.5H1145.2"/><path d="M1124.2 525.7V617.3"/>
<path d="M1017.3 581.5H1039.7"/><path d="M1028.5 530.5V632.5"/>
<path d="M979.5 594.5H1086.9"/><path d="M1033.2 558.5V630.5"/>
<path d="M1067.7 630.5H1136.7"/><path d="M1102.2 579.5V681.5"/>
<path d="M861.0 660.0H1165.4"/><path d="M1013.2 599.2V720.8"/>
<path d="M998.1 715.5H1073.9"/><path d="M1036.0 648.0V783.0"/>
<path d="M1009.8 728.8H1033.8"/><path d="M1021.8 692.8V764.8"/>
<path d="M1005.0 771.2H1154.0"/><path d="M1079.5 709.0V833.4"/>
<path d="M1141.8 201.5H1201.2"/><path d="M1171.5 155.5V247.5"/>
<path d="M1224.8 201.5H1279.6"/><path d="M1252.2 153.0V250.0"/>
<path d="M1225.8 211.7H1277.2"/><path d="M1251.5 168.1V255.3"/>
<path d="M1114.4 224.8H1180.6"/><path d="M1147.5 173.2V276.4"/>
<path d="M1151.1 228.1H1229.5"/><path d="M1190.3 188.6V267.6"/>
<path d="M1243.6 221.3H1345.4"/><path d="M1294.5 176.9V265.7"/>
<path d="M1135.9 240.8H1175.7"/><path d="M1155.8 188.7V292.9"/>
<path d="M1162.6 244.2H1244.4"/><path d="M1203.5 190.7V297.7"/>
<path d="M1158.1 247.6H1209.9"/><path d="M1184.0 207.6V287.6"/>
<path d="M1140.0 254.3H1214.4"/><path d="M1177.2 205.5V303.1"/>
<path d="M1180.6 251.0H1266.0"/><path d="M1223.3 201.9V300.1"/>
<path d="M1247.2 254.0H1355.4"/><path d="M1301.3 204.9V303.1"/>
<path d="M1273.5 251.0H1378.1"/><path d="M1325.8 198.4V303.6"/>
<path d="M1296.9 257.4H1379.5"/><path d="M1338.2 204.8V310.0"/>
<path d="M1369.6 237.5H1466.4"/><path d="M1418.0 184.2V290.8"/>
<path d="M1370.0 234.5H1478.0"/><path d="M1424.0 187.0V282.0"/>
<path d="M1390.9 257.4H1457.7"/><path d="M1424.3 215.3V299.5"/>
<path d="M1120.1 270.2H1162.3"/><path d="M1141.2 234.0V306.4"/>
<path d="M1160.4 267.1H1210.6"/><path d="M1185.5 226.5V307.7"/>
<path d="M1165.5 277.2H1206.9"/><path d="M1186.2 236.6V317.8"/>
<path d="M1161.7 277.2H1238.7"/><path d="M1200.2 237.3V317.1"/>
<path d="M1199.9 273.8H1277.7"/><path d="M1238.8 219.9V327.7"/>
<path d="M1240.8 280.2H1287.2"/><path d="M1264.0 231.4V329.0"/>
<path d="M1262.1 277.2H1318.9"/><path d="M1290.5 237.9V316.5"/>
<path d="M1295.3 277.2H1369.1"/><path d="M1332.2 224.7V329.7"/>
<path d="M1114.6 280.2H1180.4"/><path d="M1147.5 242.5V317.9"/>
<path d="M1122.0 290.0H1186.0"/><path d="M1154.0 252.5V327.5"/>
<path d="M1139.5 293.0H1188.1"/><path d="M1163.8 239.0V347.0"/>
<path d="M1303.2 286.7H1420.8"/><path d="M1362.0 248.7V324.7"/>
<path d="M1354.4 286.7H1460.6"/><path d="M1407.5 243.1V330.3"/>
<path d="M1361.0 290.0H1478.0"/><path d="M1419.5 238.5V341.5"/>
<path d="M1364.6 296.8H1472.4"/><path d="M1418.5 244.0V349.6"/>
<path d="M1261.6 293.0H1368.0"/><path d="M1314.8 254.1V331.9"/>
<path d="M1156.8 296.8H1194.8"/><path d="M1175.8 257.2V336.4"/>
<path d="M1159.6 296.8H1218.8"/><path d="M1189.2 248.3V345.3"/>
<path d="M1172.5 296.8H1251.9"/><path d="M1212.2 247.6V346.0"/>
<path d="M1190.3 299.8H1263.3"/><path d="M1226.8 253.0V346.6"/>
<path d="M1234.5 300.1H1317.9"/><path d="M1276.2 256.9V343.3"/>
<path d="M1243.0 300.1H1329.0"/><path d="M1286.0 249.0V351.2"/>
<path d="M1111.4 303.2H1175.6"/><path d="M1143.5 254.3V352.1"/>
<path d="M1124.0 303.2H1183.4"/><path d="M1153.7 265.9V340.5"/>
<path d="M1345.8 306.5H1430.8"/><path d="M1388.3 262.3V350.7"/>
<path d="M1364.1 303.2H1450.9"/><path d="M1407.5 263.6V342.8"/>
<path d="M1275.0 306.5H1349.4"/><path d="M1312.2 255.5V357.5"/>
<path d="M1343.4 310.2H1423.0"/><path d="M1383.2 257.4V363.0"/>
<path d="M1375.3 310.2H1439.7"/><path d="M1407.5 266.6V353.8"/>
<path d="M1272.2 316.2H1369.4"/><path d="M1320.8 266.6V365.8"/>
<path d="M1198.3 319.6H1239.3"/><path d="M1218.8 281.5V357.7"/>
<path d="M1276.5 323.0H1331.5"/><path d="M1304.0 276.8V369.2"/>
<path d="M1330.3 323.0H1394.7"/><path d="M1362.5 279.9V366.1"/>
<path d="M1307.7 326.0H1381.9"/><path d="M1344.8 288.2V363.8"/>
<path d="M1204.2 329.0H1265.2"/><path d="M1234.7 285.2V372.8"/>
<path d="M1272.7 329.0H1360.3"/><path d="M1316.5 286.8V371.2"/>
<path d="M1362.7 329.0H1430.3"/><path d="M1396.5 287.1V370.9"/>
<path d="M1309.3 327.8H1414.3"/><path d="M1361.8 291.7V363.9"/>
<path d="M1130.7 332.0H1184.9"/><path d="M1157.8 295.6V368.4"/>
<path d="M1119.9 335.8H1186.5"/><path d="M1153.2 296.3V375.3"/>
<path d="M1122.9 342.5H1176.1"/><path d="M1149.5 304.9V380.1"/>
<path d="M1301.2 332.3H1393.2"/><path d="M1347.2 282.0V382.6"/>
<path d="M1306.4 329.8H1427.6"/><path d="M1367.0 279.6V380.0"/>
<path d="M1316.2 332.8H1438.8"/><path d="M1377.5 296.7V368.9"/>
<path d="M1139.4 345.5H1208.2"/><path d="M1173.8 308.6V382.4"/>
<path d="M1179.0 341.8H1261.0"/><path d="M1220.0 287.9V395.7"/>
<path d="M1184.0 344.0H1259.0"/><path d="M1221.5 297.1V390.9"/>
<path d="M1184.9 349.2H1261.1"/><path d="M1223.0 311.6V386.8"/>
<path d="M1178.9 352.2H1260.5"/><path d="M1219.7 314.6V389.8"/>
<path d="M1217.0 345.5H1272.6"/><path d="M1244.8 304.6V386.4"/>
<path d="M1241.8 345.5H1329.2"/><path d="M1285.5 302.4V388.6"/>
<path d="M1270.0 345.5H1344.0"/><path d="M1307.0 300.5V390.5"/>
<path d="M1255.0 351.5H1350.0"/><path d="M1302.5 300.4V402.6"/>
<path d="M1319.9 352.2H1439.7"/><path d="M1379.8 311.1V393.3"/>
<path d="M1288.3 355.2H1343.7"/><path d="M1316.0 317.5V392.9"/>
<path d="M1282.9 359.0H1341.5"/><path d="M1312.2 309.6V408.4"/>
<path d="M1271.3 359.0H1326.3"/><path d="M1298.8 309.4V408.6"/>
<path d="M1304.4 355.2H1358.6"/><path d="M1331.5 306.8V403.6"/>
<path d="M1328.5 358.7H1403.9"/><path d="M1366.2 311.1V406.3"/>
<path d="M1297.2 362.0H1403.8"/><path d="M1350.5 314.2V409.8"/>
<path d="M1370.0 355.2H1439.0"/><path d="M1404.5 318.8V391.6"/>
<path d="M1367.3 355.2H1461.1"/><path d="M1414.2 302.9V407.5"/>
<path d="M1365.0 362.0H1465.0"/><path d="M1415.0 321.3V402.7"/>
<path d="M1372.8 352.2H1475.2"/><path d="M1424.0 301.4V403.0"/>
<path d="M1200.6 362.0H1252.0"/><path d="M1226.3 323.8V400.2"/>
<path d="M1214.0 362.0H1308.4"/><path d="M1261.2 318.4V405.6"/>
<path d="M1146.0 365.0H1199.6"/><path d="M1172.8 323.4V406.6"/>
<path d="M1185.5 368.3H1236.5"/><path d="M1211.0 316.8V419.8"/>
<path d="M1340.4 368.3H1462.6"/><path d="M1401.5 327.7V408.9"/>
<path d="M1316.8 371.8H1426.2"/><path d="M1371.5 319.3V424.3"/>
<path d="M1270.4 371.8H1346.6"/><path d="M1308.5 318.1V425.5"/>
<path d="M1385.6 371.8H1458.4"/><path d="M1422.0 320.7V422.9"/>
<path d="M1212.6 375.1H1302.4"/><path d="M1257.5 334.6V415.6"/>
<path d="M1193.6 374.8H1247.4"/><path d="M1220.5 333.9V415.7"/>
<path d="M1196.4 378.5H1243.6"/><path d="M1220.0 327.9V429.1"/>
<path d="M1322.4 381.5H1431.2"/><path d="M1376.8 331.3V431.7"/>
<path d="M1239.6 381.5H1323.4"/><path d="M1281.5 340.8V422.2"/>
<path d="M1287.2 384.8H1344.8"/><path d="M1316.0 344.1V425.5"/>
<path d="M1275.7 388.2H1378.7"/><path d="M1327.2 351.8V424.6"/>
<path d="M1159.5 391.2H1219.9"/><path d="M1189.7 349.4V433.0"/>
<path d="M1212.2 394.6H1269.8"/><path d="M1241.0 352.6V436.6"/>
<path d="M1129.1 395.0H1185.9"/><path d="M1157.5 356.0V434.0"/>
<path d="M1365.9 394.6H1441.1"/><path d="M1403.5 343.3V445.9"/>
<path d="M1291.4 398.0H1396.2"/><path d="M1343.8 355.5V440.5"/>
<path d="M1122.8 401.8H1164.2"/><path d="M1143.5 355.3V448.3"/>
<path d="M1177.5 402.2H1262.5"/><path d="M1220.0 352.0V452.4"/>
<path d="M1189.2 406.2H1250.8"/><path d="M1220.0 358.8V453.6"/>
<path d="M1244.7 404.0H1312.3"/><path d="M1278.5 355.2V452.8"/>
<path d="M1347.7 404.8H1448.3"/><path d="M1398.0 368.3V441.3"/>
<path d="M1301.3 407.8H1402.7"/><path d="M1352.0 356.1V459.5"/>
<path d="M1174.5 410.8H1235.5"/><path d="M1205.0 371.9V449.7"/>
<path d="M1189.0 408.8H1243.4"/><path d="M1216.2 369.3V448.3"/>
<path d="M1224.8 408.5H1317.2"/><path d="M1271.0 359.3V457.7"/>
<path d="M1254.7 411.5H1320.3"/><path d="M1287.5 370.1V452.9"/>
<path d="M1261.7 416.8H1317.9"/><path d="M1289.8 372.9V460.7"/>
<path d="M1119.1 414.5H1190.5"/><path d="M1154.8 364.9V464.1"/>
<path d="M1116.6 418.2H1185.4"/><path d="M1151.0 380.9V455.5"/>
<path d="M1143.3 421.2H1218.7"/><path d="M1181.0 368.8V473.6"/>
<path d="M1290.2 423.5H1398.8"/><path d="M1344.5 385.2V461.8"/>
<path d="M1331.4 423.5H1456.6"/><path d="M1394.0 369.9V477.1"/>
<path d="M1253.4 424.2H1347.0"/><path d="M1300.2 378.9V469.5"/>
<path d="M1237.6 424.2H1302.8"/><path d="M1270.2 372.4V476.0"/>
<path d="M1226.0 430.2H1304.0"/><path d="M1265.0 388.4V472.0"/>
<path d="M1175.2 431.0H1216.8"/><path d="M1196.0 394.7V467.3"/>
<path d="M1266.6 431.0H1361.0"/><path d="M1313.8 389.7V472.3"/>
<path d="M1284.5 434.8H1344.5"/><path d="M1314.5 393.3V476.3"/>
<path d="M1177.0 434.0H1237.4"/><path d="M1207.2 382.8V485.2"/>
<path d="M1176.8 440.0H1237.6"/><path d="M1207.2 401.7V478.3"/>
<path d="M1351.9 437.0H1479.7"/><path d="M1415.8 388.9V485.1"/>
<path d="M1367.2 438.8H1474.8"/><path d="M1421.0 386.6V491.0"/>
<path d="M1231.9 440.8H1299.7"/><path d="M1265.8 397.8V483.8"/>
<path d="M1258.1 440.8H1309.5"/><path d="M1283.8 392.3V489.3"/>
<path d="M1289.4 443.8H1384.0"/><path d="M1336.7 390.7V496.9"/>
<path d="M1277.9 450.2H1329.1"/><path d="M1303.5 406.8V493.6"/>
<path d="M1367.3 450.5H1465.7"/><path d="M1416.5 407.0V494.0"/>
<path d="M1337.6 463.6H1399.4"/><path d="M1368.5 412.9V514.3"/>
<path d="M1350.7 463.6H1414.3"/><path d="M1382.5 416.1V511.1"/>
<path d="M1346.9 469.2H1430.7"/><path d="M1388.8 425.6V512.8"/>
<path d="M1276.2 466.2H1382.8"/><path d="M1329.5 426.5V505.9"/>
<path d="M1291.2 465.5H1378.4"/><path d="M1334.8 424.7V506.3"/>
<path d="M1294.7 470.0H1389.7"/><path d="M1342.2 424.2V515.8"/>
<path d="M1293.6 473.8H1392.4"/><path d="M1343.0 436.1V511.5"/>
<path d="M1289.3 477.5H1384.7"/><path d="M1337.0 429.6V525.4"/>
<path d="M1186.3 470.0H1228.7"/><path d="M1207.5 416.6V523.4"/>
<path d="M1201.0 470.0H1287.6"/><path d="M1244.3 419.7V520.3"/>
<path d="M1329.4 476.8H1447.2"/><path d="M1388.3 431.8V521.8"/>
<path d="M1353.1 479.8H1488.9"/><path d="M1421.0 441.0V518.6"/>
<path d="M1278.6 483.5H1379.0"/><path d="M1328.8 429.9V537.1"/>
<path d="M1285.2 486.5H1340.8"/><path d="M1313.0 438.8V534.2"/>
<path d="M1326.3 489.5H1458.7"/><path d="M1392.5 450.9V528.1"/>
<path d="M1344.0 493.2H1447.0"/><path d="M1395.5 441.0V545.4"/>
<path d="M1370.6 489.5H1455.0"/><path d="M1412.8 449.7V529.3"/>
<path d="M1364.6 496.2H1486.4"/><path d="M1425.5 445.9V546.5"/>
<path d="M1212.8 493.2H1308.2"/><path d="M1260.5 445.5V540.9"/>
<path d="M1188.1 491.9H1229.9"/><path d="M1209.0 441.1V542.7"/>
<path d="M1183.2 495.8H1235.8"/><path d="M1209.5 449.7V541.9"/>
<path d="M1149.0 493.2H1216.0"/><path d="M1182.5 439.6V546.8"/>
<path d="M1141.4 496.2H1199.0"/><path d="M1170.2 457.6V534.8"/>
<path d="M1179.4 503.8H1242.6"/><path d="M1211.0 457.8V549.8"/>
<path d="M1175.8 509.0H1250.6"/><path d="M1213.2 469.6V548.4"/>
<path d="M1185.2 512.8H1251.8"/><path d="M1218.5 475.9V549.7"/>
<path d="M1198.6 506.0H1292.4"/><path d="M1245.5 469.6V542.4"/>
<path d="M1256.5 509.3H1337.9"/><path d="M1297.2 470.2V548.4"/>
<path d="M1359.2 512.8H1442.4"/><path d="M1400.8 469.6V556.0"/>
<path d="M1237.3 522.5H1297.1"/><path d="M1267.2 481.8V563.2"/>
<path d="M1308.8 522.5H1385.2"/><path d="M1347.0 477.5V567.5"/>
<path d="M1346.3 525.8H1483.7"/><path d="M1415.0 486.0V565.6"/>
<path d="M1128.1 529.2H1167.3"/><path d="M1147.7 492.4V566.0"/>
<path d="M1358.9 535.2H1496.7"/><path d="M1427.8 485.1V585.3"/>
<path d="M1180.0 542.0H1260.0"/><path d="M1220.0 503.3V580.7"/>
<path d="M1199.4 545.0H1263.0"/><path d="M1231.2 496.9V593.1"/>
<path d="M1214.2 545.0H1285.8"/><path d="M1250.0 495.8V594.2"/>
<path d="M1232.0 545.0H1287.6"/><path d="M1259.8 492.8V597.2"/>
<path d="M1251.7 545.0H1335.3"/><path d="M1293.5 498.0V592.0"/>
<path d="M1188.5 552.5H1257.5"/><path d="M1223.0 508.5V596.5"/>
<path d="M1190.9 555.2H1231.1"/><path d="M1211.0 516.3V594.1"/>
<path d="M1270.6 555.2H1351.0"/><path d="M1310.8 517.7V592.7"/>
<path d="M1332.0 555.2H1435.0"/><path d="M1383.5 515.8V594.6"/>
<path d="M1345.3 551.8H1459.1"/><path d="M1402.2 508.5V595.1"/>
<path d="M1291.2 561.5H1388.8"/><path d="M1340.0 520.8V602.2"/>
<path d="M1146.7 564.8H1186.3"/><path d="M1166.5 516.8V612.8"/>
<path d="M1216.8 564.8H1306.2"/><path d="M1261.5 525.0V604.6"/>
<path d="M1354.6 564.8H1418.4"/><path d="M1386.5 513.2V616.4"/>
<path d="M1253.0 571.5H1325.0"/><path d="M1289.0 523.5V619.5"/>
<path d="M1323.5 575.0H1410.5"/><path d="M1367.0 530.0V620.0"/>
<path d="M1244.0 581.8H1334.0"/><path d="M1289.0 532.3V631.3"/>
<path d="M1289.3 611.0H1358.3"/><path d="M1323.8 568.2V653.8"/>
<path d="M1316.5 617.5H1406.5"/><path d="M1361.5 568.0V667.0"/>
<path d="M1307.0 624.2H1400.0"/><path d="M1353.5 575.4V673.0"/>
<path d="M1143.2 627.0H1221.8"/><path d="M1182.5 578.0V676.0"/>
<path d="M1135.3 633.8H1221.7"/><path d="M1178.5 596.3V671.3"/>
<path d="M1230.6 637.2H1337.0"/><path d="M1283.8 596.7V677.7"/>
<path d="M1281.9 640.5H1361.5"/><path d="M1321.7 604.5V676.5"/>
<path d="M1313.5 660.0H1433.5"/><path d="M1373.5 611.2V708.8"/>
<path d="M1171.5 686.5H1297.5"/><path d="M1234.5 634.0V739.0"/>
<path d="M1108.0 692.8H1183.0"/><path d="M1145.5 641.8V743.8"/>
<path d="M1122.3 758.3H1202.7"/><path d="M1162.5 687.8V828.8"/>
<path d="M1226.3 715.5H1332.7"/><path d="M1279.5 661.5V769.5"/>
<path d="M1297.5 702.5H1393.5"/><path d="M1345.5 656.7V748.3"/>
<path d="M1261.5 712.2H1406.5"/><path d="M1334.0 654.8V769.6"/>
<path d="M1265.9 735.5H1434.5"/><path d="M1350.2 678.5V792.5"/>
<path d="M1325.0 728.8H1465.4"/><path d="M1395.2 668.8V788.8"/>
<path d="M1326.5 748.5H1476.5"/><path d="M1401.5 693.0V804.0"/>
<path d="M1515.3 231.2H1627.7"/><path d="M1571.5 183.2V279.2"/>
<path d="M1490.2 234.5H1580.2"/><path d="M1535.2 189.5V279.5"/>
<path d="M1469.4 251.0H1609.0"/><path d="M1539.2 201.5V300.5"/>
<path d="M1440.2 254.0H1587.4"/><path d="M1513.8 204.2V303.8"/>
<path d="M1442.3 257.4H1594.1"/><path d="M1518.2 213.9V300.9"/>
<path d="M1423.9 257.4H1586.5"/><path d="M1505.2 206.9V307.9"/>
<path d="M1379.7 260.8H1509.3"/><path d="M1444.5 207.9V313.7"/>
<path d="M1394.3 270.5H1542.7"/><path d="M1468.5 224.3V316.7"/>
<path d="M1594.5 277.2H1738.5"/><path d="M1666.5 226.2V328.2"/>
<path d="M1503.5 280.2H1592.1"/><path d="M1547.8 233.6V326.8"/>
<path d="M1517.5 280.2H1657.5"/><path d="M1587.5 243.9V316.5"/>
<path d="M1504.8 286.7H1621.2"/><path d="M1563.0 235.9V337.5"/>
<path d="M1395.6 290.0H1517.4"/><path d="M1456.5 237.3V342.7"/>
<path d="M1416.2 290.0H1556.4"/><path d="M1486.3 250.7V329.3"/>
<path d="M1424.3 299.0H1562.7"/><path d="M1493.5 262.2V335.8"/>
<path d="M1418.1 306.5H1570.3"/><path d="M1494.2 265.2V347.8"/>
<path d="M1392.5 306.5H1546.5"/><path d="M1469.5 269.6V343.4"/>
<path d="M1406.7 313.2H1542.9"/><path d="M1474.8 275.4V351.0"/>
<path d="M1416.0 319.6H1567.0"/><path d="M1491.5 268.9V370.3"/>
<path d="M1585.3 323.0H1745.1"/><path d="M1665.2 276.9V369.1"/>
<path d="M1487.1 342.5H1589.9"/><path d="M1538.5 299.9V385.1"/>
<path d="M1416.1 348.9H1498.9"/><path d="M1457.5 305.8V392.0"/>
<path d="M1426.9 348.9H1510.7"/><path d="M1468.8 301.5V396.3"/>
<path d="M1378.4 355.2H1484.0"/><path d="M1431.2 312.8V397.6"/>
<path d="M1393.0 355.2H1489.0"/><path d="M1441.0 302.1V408.3"/>
<path d="M1372.9 368.8H1518.1"/><path d="M1445.5 315.2V422.4"/>
<path d="M1563.2 351.9H1698.4"/><path d="M1630.8 314.4V389.4"/>
<path d="M1583.1 348.9H1697.9"/><path d="M1640.5 297.4V400.4"/>
<path d="M1584.4 348.9H1723.0"/><path d="M1653.7 310.3V387.5"/>
<path d="M1577.1 351.9H1795.3"/><path d="M1686.2 311.9V391.9"/>
<path d="M1618.1 345.5H1793.5"/><path d="M1705.8 302.1V388.9"/>
<path d="M1607.4 365.0H1723.6"/><path d="M1665.5 322.3V407.7"/>
<path d="M1466.1 368.4H1624.9"/><path d="M1545.5 322.6V414.2"/>
<path d="M1451.0 371.8H1612.6"/><path d="M1531.8 335.5V408.1"/>
<path d="M1529.0 371.8H1627.4"/><path d="M1578.2 328.0V415.6"/>
<path d="M1619.7 375.2H1807.3"/><path d="M1713.5 331.8V418.6"/>
<path d="M1446.0 378.5H1546.4"/><path d="M1496.2 327.8V429.2"/>
<path d="M1547.7 381.5H1741.3"/><path d="M1644.5 333.8V429.2"/>
<path d="M1425.0 384.9H1508.0"/><path d="M1466.5 335.6V434.2"/>
<path d="M1566.0 391.6H1733.0"/><path d="M1649.5 342.4V440.8"/>
<path d="M1485.6 391.6H1644.4"/><path d="M1565.0 345.5V437.7"/>
<path d="M1522.6 394.6H1651.0"/><path d="M1586.8 343.5V445.7"/>
<path d="M1561.2 395.0H1769.2"/><path d="M1665.2 341.9V448.1"/>
<path d="M1605.8 395.0H1743.2"/><path d="M1674.5 355.2V434.8"/>
<path d="M1567.4 398.0H1682.6"/><path d="M1625.0 349.7V446.3"/>
<path d="M1479.1 401.4H1662.5"/><path d="M1570.8 361.1V441.7"/>
<path d="M1401.9 401.4H1509.1"/><path d="M1455.5 355.6V447.2"/>
<path d="M1451.9 401.4H1567.5"/><path d="M1509.7 355.5V447.3"/>
<path d="M1382.8 404.4H1478.8"/><path d="M1430.8 357.8V451.0"/>
<path d="M1448.4 413.8H1622.6"/><path d="M1535.5 364.0V463.6"/>
<path d="M1555.9 414.5H1767.1"/><path d="M1661.5 370.9V458.1"/>
<path d="M1439.5 417.5H1526.5"/><path d="M1483.0 377.9V457.1"/>
<path d="M1577.9 420.8H1700.1"/><path d="M1639.0 370.9V470.7"/>
<path d="M1408.9 423.5H1497.1"/><path d="M1453.0 377.4V469.6"/>
<path d="M1461.1 424.6H1633.9"/><path d="M1547.5 381.0V468.2"/>
<path d="M1595.3 427.2H1721.7"/><path d="M1658.5 375.2V479.2"/>
<path d="M1375.9 429.2H1525.1"/><path d="M1450.5 392.0V466.4"/>
<path d="M1434.5 430.2H1587.1"/><path d="M1510.8 376.7V483.7"/>
<path d="M1459.7 431.3H1564.7"/><path d="M1512.2 388.9V473.7"/>
<path d="M1552.1 431.0H1664.3"/><path d="M1608.2 391.1V470.9"/>
<path d="M1599.6 431.0H1799.0"/><path d="M1699.3 387.0V475.0"/>
<path d="M1393.1 434.0H1485.9"/><path d="M1439.5 391.4V476.6"/>
<path d="M1603.5 437.3H1824.5"/><path d="M1714.0 383.4V491.2"/>
<path d="M1495.0 440.8H1610.0"/><path d="M1552.5 400.0V481.6"/>
<path d="M1392.6 441.5H1481.8"/><path d="M1437.2 391.4V491.6"/>
<path d="M1506.8 446.8H1693.2"/><path d="M1600.0 407.3V486.3"/>
<path d="M1593.0 446.8H1702.4"/><path d="M1647.7 404.8V488.8"/>
<path d="M1482.3 449.0H1651.1"/><path d="M1566.7 397.7V500.3"/>
<path d="M1392.5 449.8H1544.5"/><path d="M1468.5 406.2V493.4"/>
<path d="M1398.1 452.8H1468.9"/><path d="M1433.5 416.0V489.6"/>
<path d="M1381.2 453.5H1515.8"/><path d="M1448.5 410.8V496.2"/>
<path d="M1390.4 460.2H1470.6"/><path d="M1430.5 419.1V501.3"/>
<path d="M1404.9 463.2H1481.5"/><path d="M1443.2 410.7V515.7"/>
<path d="M1385.6 467.0H1487.4"/><path d="M1436.5 421.9V512.1"/>
<path d="M1482.6 456.9H1582.4"/><path d="M1532.5 411.5V502.3"/>
<path d="M1438.8 463.6H1535.6"/><path d="M1487.2 410.7V516.5"/>
<path d="M1492.4 460.2H1668.6"/><path d="M1580.5 411.3V509.1"/>
<path d="M1532.9 456.9H1685.1"/><path d="M1609.0 407.8V506.0"/>
<path d="M1582.7 463.6H1687.7"/><path d="M1635.2 421.1V506.1"/>
<path d="M1592.7 467.0H1805.9"/><path d="M1699.3 416.8V517.2"/>
<path d="M1521.6 473.3H1641.8"/><path d="M1581.7 430.4V516.2"/>
<path d="M1548.1 479.8H1653.5"/><path d="M1600.8 443.8V515.8"/>
<path d="M1388.0 483.5H1538.4"/><path d="M1463.2 444.2V522.8"/>
<path d="M1596.3 486.5H1799.3"/><path d="M1697.8 447.3V525.7"/>
<path d="M1540.7 496.6H1681.7"/><path d="M1611.2 450.8V542.4"/>
<path d="M1522.8 499.6H1628.6"/><path d="M1575.7 458.5V540.7"/>
<path d="M1623.5 499.6H1742.9"/><path d="M1683.2 463.5V535.7"/>
<path d="M1602.5 503.0H1747.5"/><path d="M1675.0 451.9V554.1"/>
<path d="M1633.2 503.0H1765.4"/><path d="M1699.3 459.2V546.8"/>
<path d="M1426.7 506.0H1534.3"/><path d="M1480.5 460.7V551.3"/>
<path d="M1499.4 506.0H1604.0"/><path d="M1551.7 469.1V542.9"/>
<path d="M1620.8 509.3H1765.2"/><path d="M1693.0 455.7V562.9"/>
<path d="M1623.3 508.7H1803.1"/><path d="M1713.2 464.6V552.8"/>
<path d="M1642.6 509.9H1787.0"/><path d="M1714.8 461.0V558.8"/>
<path d="M1562.0 512.8H1671.0"/><path d="M1616.5 465.8V559.8"/>
<path d="M1557.1 512.8H1707.9"/><path d="M1632.5 475.6V550.0"/>
<path d="M1458.0 519.2H1583.6"/><path d="M1520.8 477.1V561.3"/>
<path d="M1575.3 522.2H1670.3"/><path d="M1622.8 478.1V566.3"/>
<path d="M1604.3 522.5H1728.3"/><path d="M1666.3 484.6V560.4"/>
<path d="M1605.4 525.8H1795.0"/><path d="M1700.2 479.8V571.8"/>
<path d="M1389.4 532.2H1488.6"/><path d="M1439.0 483.5V580.9"/>
<path d="M1491.5 555.2H1668.9"/><path d="M1580.2 512.6V597.8"/>
<path d="M1522.1 555.2H1666.9"/><path d="M1594.5 503.2V607.2"/>
<path d="M1503.1 561.5H1613.9"/><path d="M1558.5 517.4V605.6"/>
<path d="M1523.0 565.2H1663.4"/><path d="M1593.2 522.7V607.7"/>
<path d="M1508.5 575.0H1655.5"/><path d="M1582.0 531.5V618.5"/>
<path d="M1318.3 578.3H1588.3"/><path d="M1453.3 511.5V645.1"/>
<path d="M1630.0 575.0H1780.0"/><path d="M1705.0 530.0V620.0"/>
<path d="M1601.5 584.8H1751.5"/><path d="M1676.5 535.3V634.3"/>
<path d="M1517.8 597.5H1632.6"/><path d="M1575.2 522.5V672.5"/>
<path d="M1469.2 611.0H1586.8"/><path d="M1528.0 565.2V656.8"/>
<path d="M1504.0 620.8H1645.0"/><path d="M1574.5 568.3V673.3"/>
<path d="M1567.7 617.5H1707.3"/><path d="M1637.5 568.3V666.7"/>
<path d="M1595.0 633.8H1758.6"/><path d="M1676.8 579.8V687.8"/>
<path d="M1636.3 643.5H1770.7"/><path d="M1703.5 604.1V682.9"/>
<path d="M1468.0 647.0H1693.0"/><path d="M1580.5 604.6V689.4"/>
<path d="M1460.3 650.3H1632.7"/><path d="M1546.5 594.8V705.8"/>
<path d="M1533.5 656.8H1701.5"/><path d="M1617.5 609.3V704.3"/>
<path d="M1666.2 787.2H1667.8"/><path d="M1667.0 725.7V848.7"/>
<path d="M1658.7 251.0H1808.7"/><path d="M1733.7 206.8V295.2"/>
<path d="M1657.8 283.6H1837.8"/><path d="M1747.8 226.6V340.6"/>
<path d="M1619.8 290.0H1834.2"/><path d="M1727.0 239.0V341.0"/>
<path d="M1736.5 290.0H2006.5"/><path d="M1871.5 242.8V337.2"/>
<path d="M1838.0 290.0H2048.0"/><path d="M1943.0 233.0V347.0"/>
<path d="M1639.2 316.2H1837.2"/><path d="M1738.2 266.7V365.7"/>
<path d="M1740.5 312.9H1858.9"/><path d="M1799.7 278.7V347.1"/>
<path d="M1684.0 335.8H1878.4"/><path d="M1781.2 285.6V386.0"/>
<path d="M1740.9 348.9H2007.5"/><path d="M1874.2 305.5V392.3"/>
<path d="M1659.2 355.6H1805.8"/><path d="M1732.5 305.8V405.4"/>
<path d="M1783.8 355.6H2034.6"/><path d="M1909.2 314.7V396.5"/>
<path d="M1798.4 359.0H2005.6"/><path d="M1902.0 318.6V399.4"/>
<path d="M1733.1 362.0H1935.9"/><path d="M1834.5 322.2V401.8"/>
<path d="M1843.8 368.8H1994.6"/><path d="M1919.2 328.0V409.6"/>
<path d="M1856.9 372.1H2013.1"/><path d="M1935.0 330.7V413.5"/>
<path d="M1712.7 388.2H1878.3"/><path d="M1795.5 346.6V429.8"/>
<path d="M1721.9 388.2H1991.5"/><path d="M1856.7 338.5V437.9"/>
<path d="M1697.4 391.6H1849.2"/><path d="M1773.3 339.3V443.9"/>
<path d="M1698.2 398.0H1884.4"/><path d="M1791.3 361.7V434.3"/>
<path d="M1647.9 401.4H1818.5"/><path d="M1733.2 363.9V438.9"/>
<path d="M1789.9 401.4H1965.1"/><path d="M1877.5 348.1V454.7"/>
<path d="M1748.5 414.2H1957.1"/><path d="M1852.8 360.5V467.9"/>
<path d="M1767.6 424.2H1966.0"/><path d="M1866.8 382.2V466.2"/>
<path d="M1675.4 427.2H1817.6"/><path d="M1746.5 386.7V467.7"/>
<path d="M1706.8 427.2H1943.2"/><path d="M1825.0 380.6V473.8"/>
<path d="M1670.4 430.6H1908.6"/><path d="M1789.5 386.0V475.2"/>
<path d="M1638.5 434.3H1866.5"/><path d="M1752.5 382.1V486.5"/>
<path d="M1776.5 440.8H1915.1"/><path d="M1845.8 392.8V488.8"/>
<path d="M1795.3 447.5H1937.7"/><path d="M1866.5 405.1V489.9"/>
<path d="M1840.4 447.5H2000.6"/><path d="M1920.5 400.1V494.9"/>
<path d="M1687.3 450.1H1816.7"/><path d="M1752.0 412.5V487.7"/>
<path d="M1704.7 470.0H1934.3"/><path d="M1819.5 421.8V518.2"/>
<path d="M1618.3 473.3H1835.3"/><path d="M1726.8 420.9V525.7"/>
<path d="M1662.6 473.3H1874.4"/><path d="M1768.5 422.4V524.2"/>
<path d="M1686.3 483.5H1839.7"/><path d="M1763.0 439.3V527.7"/>
<path d="M1796.8 473.8H2022.2"/><path d="M1909.5 430.6V517.0"/>
<path d="M1741.9 496.6H1936.7"/><path d="M1839.3 451.9V541.3"/>
<path d="M1798.2 496.6H2018.8"/><path d="M1908.5 459.9V533.3"/>
<path d="M1826.9 506.4H1988.1"/><path d="M1907.5 456.5V556.3"/>
<path d="M1618.3 499.2H1838.3"/><path d="M1728.3 459.5V538.9"/>
<path d="M1738.4 509.0H1876.0"/><path d="M1807.2 468.8V549.2"/>
<path d="M1681.2 516.0H1926.4"/><path d="M1803.8 472.0V560.0"/>
<path d="M1691.2 548.8H1957.4"/><path d="M1824.3 503.9V593.7"/>
<path d="M1745.7 555.2H1885.3"/><path d="M1815.5 505.4V605.0"/>
<path d="M1834.6 555.2H1992.4"/><path d="M1913.5 506.7V603.7"/>
<path d="M1713.9 561.5H1992.5"/><path d="M1853.2 512.1V610.9"/>
<path d="M1637.2 581.5H1817.2"/><path d="M1727.2 529.0V634.0"/>
<path d="M1700.5 578.3H1844.5"/><path d="M1772.5 527.3V629.3"/>
<path d="M1775.3 578.3H1929.7"/><path d="M1852.5 539.3V617.3"/>
<path d="M1684.2 601.2H1873.2"/><path d="M1778.7 545.7V656.7"/>
<path d="M1790.3 594.5H2016.7"/><path d="M1903.5 547.3V641.7"/>
<path d="M1731.0 640.5H1995.6"/><path d="M1863.3 583.1V697.9"/>
<path d="M1697.7 719.0H1919.7"/><path d="M1808.7 656.8V781.2"/>
<path d="M1602.4 729.0H2011.2"/><path d="M1806.8 657.0V801.0"/>
<path d="M831.6 283.9H849.6"/><path d="M840.6 239.9V327.9"/>
<path d="M780.2 394.6H800.2"/><path d="M790.2 352.6V436.6"/>
</g>
<g fill="#000" fill-opacity="0.5">
<circle cx="667.2" cy="133.4" r="6.6"/>
<circle cx="648.6" cy="169.2" r="6.6"/>
<circle cx="715.0" cy="159.4" r="6.6"/>
<circle cx="704.2" cy="175.6" r="6.6"/>
<circle cx="756.4" cy="185.4" r="6.6"/>
<circle cx="832.4" cy="162.6" r="6.6"/>
<circle cx="906.6" cy="107.2" r="6.6"/>
<circle cx="885.4" cy="198.0" r="6.6"/>
<circle cx="1130.0" cy="87.4" r="6.6"/>
<circle cx="1130.4" cy="103.6" r="6.6"/>
<circle cx="1097.6" cy="156.2" r="6.6"/>
<circle cx="1073.4" cy="175.6" r="6.6"/>
<circle cx="1134.4" cy="185.4" r="6.6"/>
<circle cx="1211.6" cy="195.2" r="6.6"/>
<circle cx="1270.0" cy="188.6" r="6.6"/>
<circle cx="1321.0" cy="195.2" r="6.6"/>
<circle cx="1086.6" cy="198.0" r="6.6"/>
<circle cx="1486.4" cy="156.2" r="6.6"/>
<circle cx="1600.6" cy="175.6" r="6.6"/>
<circle cx="1504.8" cy="195.2" r="6.6"/>
<circle cx="509.4" cy="228.0" r="6.6"/>
<circle cx="500.0" cy="234.4" r="6.6"/>
<circle cx="543.6" cy="273.8" r="6.6"/>
<circle cx="408.4" cy="303.2" r="6.6"/>
<circle cx="450.0" cy="296.8" r="6.6"/>
<circle cx="506.0" cy="303.2" r="6.6"/>
<circle cx="496.2" cy="319.6" r="6.6"/>
<circle cx="439.8" cy="332.6" r="6.6"/>
<circle cx="474.2" cy="332.6" r="6.6"/>
<circle cx="512.4" cy="332.6" r="6.6"/>
<circle cx="521.2" cy="330.0" r="6.6"/>
<circle cx="545.0" cy="322.4" r="6.6"/>
<circle cx="475.0" cy="345.6" r="6.6"/>
<circle cx="476.4" cy="349.0" r="6.6"/>
<circle cx="306.0" cy="342.4" r="6.6"/>
<circle cx="370.2" cy="362.0" r="6.6"/>
<circle cx="507.8" cy="369.4" r="6.6"/>
<circle cx="443.0" cy="377.6" r="6.6"/>
<circle cx="547.0" cy="375.0" r="6.6"/>
<circle cx="471.4" cy="385.0" r="6.6"/>
<circle cx="456.0" cy="391.6" r="6.6"/>
<circle cx="495.6" cy="388.4" r="6.6"/>
<circle cx="510.0" cy="395.0" r="6.6"/>
<circle cx="409.0" cy="398.6" r="6.6"/>
<circle cx="322.4" cy="411.4" r="6.6"/>
<circle cx="296.0" cy="417.6" r="6.6"/>
<circle cx="535.4" cy="424.4" r="6.6"/>
<circle cx="377.6" cy="444.0" r="6.6"/>
<circle cx="492.0" cy="444.0" r="6.6"/>
<circle cx="512.0" cy="440.6" r="6.6"/>
<circle cx="536.0" cy="440.6" r="6.6"/>
<circle cx="326.4" cy="453.6" r="6.6"/>
<circle cx="441.6" cy="467.0" r="6.6"/>
<circle cx="507.6" cy="467.0" r="6.6"/>
<circle cx="511.6" cy="477.0" r="6.6"/>
<circle cx="459.2" cy="480.0" r="6.6"/>
<circle cx="512.0" cy="490.0" r="6.6"/>
<circle cx="477.0" cy="499.6" r="6.6"/>
<circle cx="440.0" cy="532.4" r="6.6"/>
<circle cx="451.4" cy="532.4" r="6.6"/>
<circle cx="453.4" cy="555.2" r="6.6"/>
<circle cx="438.0" cy="611.0" r="6.6"/>
<circle cx="530.4" cy="633.6" r="6.6"/>
<circle cx="512.0" cy="660.0" r="6.6"/>
<circle cx="548.6" cy="696.0" r="6.6"/>
<circle cx="237.5" cy="780.8" r="6.6"/>
<circle cx="610.0" cy="205.4" r="6.6"/>
<circle cx="659.5" cy="221.3" r="6.6"/>
<circle cx="682.6" cy="215.0" r="6.6"/>
<circle cx="716.5" cy="211.6" r="6.6"/>
<circle cx="790.0" cy="221.3" r="6.6"/>
<circle cx="807.7" cy="221.3" r="6.6"/>
<circle cx="823.6" cy="221.3" r="6.6"/>
<circle cx="814.6" cy="228.2" r="6.6"/>
<circle cx="791.8" cy="231.2" r="6.6"/>
<circle cx="784.5" cy="234.5" r="6.6"/>
<circle cx="684.1" cy="237.5" r="6.6"/>
<circle cx="664.8" cy="244.2" r="6.6"/>
<circle cx="667.3" cy="247.7" r="6.6"/>
<circle cx="595.0" cy="251.0" r="6.6"/>
<circle cx="803.2" cy="254.3" r="6.6"/>
<circle cx="831.7" cy="254.0" r="6.6"/>
<circle cx="761.2" cy="263.8" r="6.6"/>
<circle cx="787.9" cy="264.1" r="6.6"/>
<circle cx="584.8" cy="264.1" r="6.6"/>
<circle cx="593.5" cy="264.1" r="6.6"/>
<circle cx="668.5" cy="267.1" r="6.6"/>
<circle cx="681.5" cy="267.1" r="6.6"/>
<circle cx="830.8" cy="273.2" r="6.6"/>
<circle cx="830.2" cy="276.8" r="6.6"/>
<circle cx="608.5" cy="273.5" r="6.6"/>
<circle cx="622.3" cy="273.5" r="6.6"/>
<circle cx="809.2" cy="276.9" r="6.6"/>
<circle cx="640.3" cy="280.2" r="6.6"/>
<circle cx="572.5" cy="280.6" r="6.6"/>
<circle cx="559.9" cy="283.6" r="6.6"/>
<circle cx="840.2" cy="283.6" r="6.6"/>
<circle cx="721.5" cy="286.7" r="6.6"/>
<circle cx="735.0" cy="286.7" r="6.6"/>
<circle cx="809.0" cy="287.0" r="6.6"/>
<circle cx="796.8" cy="290.3" r="6.6"/>
<circle cx="835.0" cy="293.4" r="6.6"/>
<circle cx="767.5" cy="296.8" r="6.6"/>
<circle cx="553.0" cy="299.8" r="6.6"/>
<circle cx="740.5" cy="302.8" r="6.6"/>
<circle cx="751.8" cy="306.5" r="6.6"/>
<circle cx="832.8" cy="303.2" r="6.6"/>
<circle cx="812.2" cy="306.5" r="6.6"/>
<circle cx="689.5" cy="309.8" r="6.6"/>
<circle cx="739.3" cy="310.2" r="6.6"/>
<circle cx="605.5" cy="312.9" r="6.6"/>
<circle cx="622.0" cy="312.9" r="6.6"/>
<circle cx="806.8" cy="313.2" r="6.6"/>
<circle cx="745.8" cy="316.2" r="6.6"/>
<circle cx="793.3" cy="316.2" r="6.6"/>
<circle cx="649.8" cy="319.6" r="6.6"/>
<circle cx="840.0" cy="319.6" r="6.6"/>
<circle cx="553.0" cy="323.0" r="6.6"/>
<circle cx="573.2" cy="323.0" r="6.6"/>
<circle cx="563.8" cy="326.0" r="6.6"/>
<circle cx="768.5" cy="323.0" r="6.6"/>
<circle cx="679.3" cy="326.0" r="6.6"/>
<circle cx="635.5" cy="329.3" r="6.6"/>
<circle cx="647.5" cy="329.3" r="6.6"/>
<circle cx="689.5" cy="329.3" r="6.6"/>
<circle cx="721.8" cy="329.3" r="6.6"/>
<circle cx="749.5" cy="329.3" r="6.6"/>
<circle cx="703.3" cy="331.7" r="6.6"/>
<circle cx="698.8" cy="335.0" r="6.6"/>
<circle cx="758.5" cy="335.0" r="6.6"/>
<circle cx="777.2" cy="334.7" r="6.6"/>
<circle cx="779.8" cy="335.9" r="6.6"/>
<circle cx="786.2" cy="338.3" r="6.6"/>
<circle cx="799.0" cy="334.2" r="6.6"/>
<circle cx="803.5" cy="331.2" r="6.6"/>
<circle cx="796.0" cy="337.7" r="6.6"/>
<circle cx="832.8" cy="335.0" r="6.6"/>
<circle cx="815.5" cy="341.8" r="6.6"/>
<circle cx="822.2" cy="341.8" r="6.6"/>
<circle cx="578.5" cy="335.0" r="6.6"/>
<circle cx="610.0" cy="335.8" r="6.6"/>
<circle cx="592.0" cy="342.2" r="6.6"/>
<circle cx="583.8" cy="348.5" r="6.6"/>
<circle cx="574.8" cy="355.2" r="6.6"/>
<circle cx="551.5" cy="352.2" r="6.6"/>
<circle cx="709.5" cy="342.5" r="6.6"/>
<circle cx="728.5" cy="342.5" r="6.6"/>
<circle cx="739.3" cy="344.0" r="6.6"/>
<circle cx="742.0" cy="345.8" r="6.6"/>
<circle cx="755.5" cy="349.2" r="6.6"/>
<circle cx="788.5" cy="351.8" r="6.6"/>
<circle cx="711.5" cy="355.6" r="6.6"/>
<circle cx="740.2" cy="355.6" r="6.6"/>
<circle cx="685.5" cy="358.6" r="6.6"/>
<circle cx="769.5" cy="362.0" r="6.6"/>
<circle cx="785.2" cy="362.0" r="6.6"/>
<circle cx="820.8" cy="358.6" r="6.6"/>
<circle cx="827.2" cy="362.0" r="6.6"/>
<circle cx="846.7" cy="365.0" r="6.6"/>
<circle cx="625.5" cy="365.0" r="6.6"/>
<circle cx="651.4" cy="365.0" r="6.6"/>
<circle cx="569.5" cy="365.0" r="6.6"/>
<circle cx="715.0" cy="368.3" r="6.6"/>
<circle cx="726.7" cy="371.8" r="6.6"/>
<circle cx="776.5" cy="371.8" r="6.6"/>
<circle cx="796.0" cy="371.8" r="6.6"/>
<circle cx="687.4" cy="371.8" r="6.6"/>
<circle cx="571.0" cy="371.8" r="6.6"/>
<circle cx="568.3" cy="378.5" r="6.6"/>
<circle cx="548.2" cy="388.2" r="6.6"/>
<circle cx="640.5" cy="378.5" r="6.6"/>
<circle cx="660.2" cy="375.2" r="6.6"/>
<circle cx="802.8" cy="385.2" r="6.6"/>
<circle cx="805.0" cy="388.2" r="6.6"/>
<circle cx="759.5" cy="388.2" r="6.6"/>
<circle cx="673.0" cy="388.6" r="6.6"/>
<circle cx="640.5" cy="388.6" r="6.6"/>
<circle cx="625.8" cy="391.2" r="6.6"/>
<circle cx="632.2" cy="391.6" r="6.6"/>
<circle cx="781.0" cy="389.0" r="6.6"/>
<circle cx="789.7" cy="395.0" r="6.6"/>
<circle cx="745.9" cy="395.0" r="6.6"/>
<circle cx="775.5" cy="398.0" r="6.6"/>
<circle cx="590.2" cy="401.8" r="6.6"/>
<circle cx="727.9" cy="404.3" r="6.6"/>
<circle cx="736.0" cy="414.2" r="6.6"/>
<circle cx="701.5" cy="414.2" r="6.6"/>
<circle cx="669.0" cy="414.2" r="6.6"/>
<circle cx="657.7" cy="414.2" r="6.6"/>
<circle cx="590.2" cy="417.8" r="6.6"/>
<circle cx="565.5" cy="424.2" r="6.6"/>
<circle cx="775.8" cy="421.2" r="6.6"/>
<circle cx="649.8" cy="421.2" r="6.6"/>
<circle cx="655.0" cy="423.5" r="6.6"/>
<circle cx="661.8" cy="421.2" r="6.6"/>
<circle cx="745.8" cy="424.2" r="6.6"/>
<circle cx="741.2" cy="427.2" r="6.6"/>
<circle cx="640.5" cy="427.2" r="6.6"/>
<circle cx="822.2" cy="431.0" r="6.6"/>
<circle cx="726.4" cy="434.0" r="6.6"/>
<circle cx="691.5" cy="437.3" r="6.6"/>
<circle cx="788.0" cy="440.4" r="6.6"/>
<circle cx="627.2" cy="443.8" r="6.6"/>
<circle cx="694.8" cy="446.8" r="6.6"/>
<circle cx="662.2" cy="450.5" r="6.6"/>
<circle cx="619.3" cy="453.5" r="6.6"/>
<circle cx="602.2" cy="457.2" r="6.6"/>
<circle cx="691.0" cy="457.2" r="6.6"/>
<circle cx="694.8" cy="454.2" r="6.6"/>
<circle cx="699.2" cy="457.2" r="6.6"/>
<circle cx="743.5" cy="459.5" r="6.6"/>
<circle cx="742.8" cy="462.8" r="6.6"/>
<circle cx="785.5" cy="460.6" r="6.6"/>
<circle cx="820.0" cy="457.2" r="6.6"/>
<circle cx="828.7" cy="460.2" r="6.6"/>
<circle cx="827.5" cy="467.0" r="6.6"/>
<circle cx="713.8" cy="467.0" r="6.6"/>
<circle cx="716.2" cy="470.0" r="6.6"/>
<circle cx="677.8" cy="473.3" r="6.6"/>
<circle cx="690.7" cy="473.3" r="6.6"/>
<circle cx="840.2" cy="476.4" r="6.6"/>
<circle cx="593.2" cy="476.8" r="6.6"/>
<circle cx="616.0" cy="476.8" r="6.6"/>
<circle cx="715.0" cy="479.8" r="6.6"/>
<circle cx="717.2" cy="483.1" r="6.6"/>
<circle cx="672.2" cy="486.5" r="6.6"/>
<circle cx="680.8" cy="492.9" r="6.6"/>
<circle cx="593.5" cy="492.9" r="6.6"/>
<circle cx="618.7" cy="492.9" r="6.6"/>
<circle cx="581.5" cy="503.0" r="6.6"/>
<circle cx="600.5" cy="503.0" r="6.6"/>
<circle cx="614.5" cy="503.0" r="6.6"/>
<circle cx="641.2" cy="506.0" r="6.6"/>
<circle cx="793.5" cy="512.8" r="6.6"/>
<circle cx="582.5" cy="519.2" r="6.6"/>
<circle cx="636.0" cy="519.2" r="6.6"/>
<circle cx="702.5" cy="519.2" r="6.6"/>
<circle cx="747.7" cy="525.8" r="6.6"/>
<circle cx="704.5" cy="532.2" r="6.6"/>
<circle cx="606.5" cy="535.2" r="6.6"/>
<circle cx="770.2" cy="535.5" r="6.6"/>
<circle cx="765.2" cy="539.0" r="6.6"/>
<circle cx="817.0" cy="532.2" r="6.6"/>
<circle cx="819.5" cy="535.5" r="6.6"/>
<circle cx="610.5" cy="542.3" r="6.6"/>
<circle cx="672.5" cy="542.3" r="6.6"/>
<circle cx="750.4" cy="545.5" r="6.6"/>
<circle cx="660.5" cy="571.5" r="6.6"/>
<circle cx="661.3" cy="611.0" r="6.6"/>
<circle cx="715.3" cy="627.5" r="6.6"/>
<circle cx="784.5" cy="584.8" r="6.6"/>
<circle cx="565.5" cy="666.5" r="6.6"/>
<circle cx="771.2" cy="666.5" r="6.6"/>
<circle cx="741.0" cy="686.5" r="6.6"/>
<circle cx="723.2" cy="705.8" r="6.6"/>
<circle cx="792.0" cy="719.0" r="6.6"/>
<circle cx="963.8" cy="201.8" r="6.6"/>
<circle cx="1018.5" cy="205.2" r="6.6"/>
<circle cx="901.2" cy="211.6" r="6.6"/>
<circle cx="1070.2" cy="211.2" r="6.6"/>
<circle cx="1071.9" cy="212.2" r="6.6"/>
<circle cx="913.2" cy="228.1" r="6.6"/>
<circle cx="961.5" cy="228.1" r="6.6"/>
<circle cx="1014.8" cy="234.5" r="6.6"/>
<circle cx="1126.2" cy="231.1" r="6.6"/>
<circle cx="1119.8" cy="234.5" r="6.6"/>
<circle cx="891.8" cy="244.2" r="6.6"/>
<circle cx="874.5" cy="247.6" r="6.6"/>
<circle cx="1102.2" cy="251.0" r="6.6"/>
<circle cx="1107.8" cy="257.4" r="6.6"/>
<circle cx="909.8" cy="257.4" r="6.6"/>
<circle cx="977.2" cy="257.0" r="6.6"/>
<circle cx="975.5" cy="260.8" r="6.6"/>
<circle cx="1039.2" cy="257.3" r="6.6"/>
<circle cx="879.0" cy="260.8" r="6.6"/>
<circle cx="1114.8" cy="263.8" r="6.6"/>
<circle cx="1094.2" cy="264.1" r="6.6"/>
<circle cx="1063.5" cy="267.2" r="6.6"/>
<circle cx="1133.2" cy="267.2" r="6.6"/>
<circle cx="886.5" cy="267.5" r="6.6"/>
<circle cx="894.3" cy="267.5" r="6.6"/>
<circle cx="1110.8" cy="270.5" r="6.6"/>
<circle cx="954.9" cy="270.5" r="6.6"/>
<circle cx="871.0" cy="273.8" r="6.6"/>
<circle cx="1007.5" cy="273.8" r="6.6"/>
<circle cx="960.0" cy="276.5" r="6.6"/>
<circle cx="963.0" cy="279.5" r="6.6"/>
<circle cx="1123.5" cy="276.9" r="6.6"/>
<circle cx="1076.5" cy="277.2" r="6.6"/>
<circle cx="947.0" cy="280.2" r="6.6"/>
<circle cx="987.5" cy="280.2" r="6.6"/>
<circle cx="880.2" cy="287.0" r="6.6"/>
<circle cx="913.5" cy="287.0" r="6.6"/>
<circle cx="912.8" cy="290.3" r="6.6"/>
<circle cx="1007.5" cy="286.7" r="6.6"/>
<circle cx="1023.0" cy="286.2" r="6.6"/>
<circle cx="1021.8" cy="290.0" r="6.6"/>
<circle cx="1040.2" cy="290.0" r="6.6"/>
<circle cx="1131.8" cy="286.7" r="6.6"/>
<circle cx="1110.5" cy="293.0" r="6.6"/>
<circle cx="1126.5" cy="293.0" r="6.6"/>
<circle cx="1123.5" cy="296.8" r="6.6"/>
<circle cx="965.2" cy="293.3" r="6.6"/>
<circle cx="957.8" cy="296.0" r="6.6"/>
<circle cx="892.5" cy="296.0" r="6.6"/>
<circle cx="893.4" cy="299.0" r="6.6"/>
<circle cx="981.0" cy="296.8" r="6.6"/>
<circle cx="908.5" cy="300.1" r="6.6"/>
<circle cx="941.2" cy="300.1" r="6.6"/>
<circle cx="1012.5" cy="300.1" r="6.6"/>
<circle cx="1076.5" cy="300.1" r="6.6"/>
<circle cx="1081.5" cy="299.8" r="6.6"/>
<circle cx="1106.5" cy="303.2" r="6.6"/>
<circle cx="957.8" cy="303.2" r="6.6"/>
<circle cx="967.2" cy="303.5" r="6.6"/>
<circle cx="872.0" cy="306.5" r="6.6"/>
<circle cx="864.0" cy="310.2" r="6.6"/>
<circle cx="1052.7" cy="306.5" r="6.6"/>
<circle cx="891.0" cy="313.2" r="6.6"/>
<circle cx="899.2" cy="311.3" r="6.6"/>
<circle cx="900.3" cy="312.8" r="6.6"/>
<circle cx="1017.5" cy="312.9" r="6.6"/>
<circle cx="861.0" cy="316.2" r="6.6"/>
<circle cx="873.3" cy="316.7" r="6.6"/>
<circle cx="1048.2" cy="319.6" r="6.6"/>
<circle cx="1124.0" cy="319.6" r="6.6"/>
<circle cx="1019.2" cy="323.0" r="6.6"/>
<circle cx="1065.8" cy="323.0" r="6.6"/>
<circle cx="1089.8" cy="323.0" r="6.6"/>
<circle cx="861.0" cy="325.7" r="6.6"/>
<circle cx="862.0" cy="326.8" r="6.6"/>
<circle cx="979.5" cy="326.4" r="6.6"/>
<circle cx="1002.8" cy="326.4" r="6.6"/>
<circle cx="1033.0" cy="326.4" r="6.6"/>
<circle cx="1107.0" cy="326.4" r="6.6"/>
<circle cx="1025.2" cy="332.8" r="6.6"/>
<circle cx="1069.5" cy="334.7" r="6.6"/>
<circle cx="1083.8" cy="332.8" r="6.6"/>
<circle cx="1094.2" cy="338.8" r="6.6"/>
<circle cx="1096.2" cy="340.7" r="6.6"/>
<circle cx="1047.8" cy="342.5" r="6.6"/>
<circle cx="1053.8" cy="348.5" r="6.6"/>
<circle cx="1066.5" cy="350.0" r="6.6"/>
<circle cx="1071.0" cy="341.8" r="6.6"/>
<circle cx="1104.0" cy="348.5" r="6.6"/>
<circle cx="1090.5" cy="355.2" r="6.6"/>
<circle cx="1051.5" cy="358.2" r="6.6"/>
<circle cx="1079.7" cy="361.7" r="6.6"/>
<circle cx="1111.8" cy="361.7" r="6.6"/>
<circle cx="941.2" cy="339.1" r="6.6"/>
<circle cx="859.5" cy="338.0" r="6.6"/>
<circle cx="864.8" cy="342.5" r="6.6"/>
<circle cx="855.8" cy="345.5" r="6.6"/>
<circle cx="981.0" cy="348.9" r="6.6"/>
<circle cx="940.5" cy="347.8" r="6.6"/>
<circle cx="936.0" cy="351.5" r="6.6"/>
<circle cx="873.0" cy="352.2" r="6.6"/>
<circle cx="874.5" cy="355.2" r="6.6"/>
<circle cx="894.8" cy="358.2" r="6.6"/>
<circle cx="896.2" cy="365.8" r="6.6"/>
<circle cx="888.0" cy="368.8" r="6.6"/>
<circle cx="873.8" cy="368.3" r="6.6"/>
<circle cx="853.5" cy="362.0" r="6.6"/>
<circle cx="933.3" cy="371.8" r="6.6"/>
<circle cx="932.7" cy="377.8" r="6.6"/>
<circle cx="871.8" cy="378.5" r="6.6"/>
<circle cx="1013.7" cy="378.2" r="6.6"/>
<circle cx="1021.2" cy="381.5" r="6.6"/>
<circle cx="1055.2" cy="378.2" r="6.6"/>
<circle cx="1082.7" cy="375.2" r="6.6"/>
<circle cx="1120.2" cy="375.2" r="6.6"/>
<circle cx="1068.8" cy="384.8" r="6.6"/>
<circle cx="1077.0" cy="384.8" r="6.6"/>
<circle cx="1126.5" cy="385.2" r="6.6"/>
<circle cx="943.8" cy="385.2" r="6.6"/>
<circle cx="956.2" cy="391.7" r="6.6"/>
<circle cx="958.5" cy="392.8" r="6.6"/>
<circle cx="973.5" cy="394.2" r="6.6"/>
<circle cx="976.5" cy="396.5" r="6.6"/>
<circle cx="903.8" cy="395.0" r="6.6"/>
<circle cx="929.5" cy="395.0" r="6.6"/>
<circle cx="872.5" cy="395.0" r="6.6"/>
<circle cx="1097.2" cy="398.0" r="6.6"/>
<circle cx="1106.2" cy="401.8" r="6.6"/>
<circle cx="1131.0" cy="401.8" r="6.6"/>
<circle cx="1136.2" cy="399.5" r="6.6"/>
<circle cx="857.2" cy="401.4" r="6.6"/>
<circle cx="1020.0" cy="404.8" r="6.6"/>
<circle cx="1004.7" cy="404.8" r="6.6"/>
<circle cx="993.0" cy="408.5" r="6.6"/>
<circle cx="965.7" cy="408.5" r="6.6"/>
<circle cx="907.5" cy="407.8" r="6.6"/>
<circle cx="912.3" cy="411.5" r="6.6"/>
<circle cx="990.0" cy="414.5" r="6.6"/>
<circle cx="1078.5" cy="414.5" r="6.6"/>
<circle cx="1076.2" cy="418.2" r="6.6"/>
<circle cx="1037.7" cy="417.5" r="6.6"/>
<circle cx="858.8" cy="421.2" r="6.6"/>
<circle cx="1047.8" cy="427.2" r="6.6"/>
<circle cx="955.5" cy="431.0" r="6.6"/>
<circle cx="980.5" cy="434.0" r="6.6"/>
<circle cx="1024.0" cy="437.3" r="6.6"/>
<circle cx="1059.3" cy="440.3" r="6.6"/>
<circle cx="1060.8" cy="441.2" r="6.6"/>
<circle cx="887.7" cy="443.8" r="6.6"/>
<circle cx="1132.5" cy="443.8" r="6.6"/>
<circle cx="990.3" cy="447.5" r="6.6"/>
<circle cx="1096.5" cy="450.5" r="6.6"/>
<circle cx="1086.8" cy="454.2" r="6.6"/>
<circle cx="1101.0" cy="463.2" r="6.6"/>
<circle cx="1057.5" cy="463.6" r="6.6"/>
<circle cx="1078.5" cy="463.6" r="6.6"/>
<circle cx="1095.8" cy="470.0" r="6.6"/>
<circle cx="951.0" cy="463.6" r="6.6"/>
<circle cx="916.8" cy="467.0" r="6.6"/>
<circle cx="859.5" cy="470.0" r="6.6"/>
<circle cx="889.8" cy="470.0" r="6.6"/>
<circle cx="1000.2" cy="476.8" r="6.6"/>
<circle cx="1034.0" cy="476.8" r="6.6"/>
<circle cx="1118.5" cy="476.8" r="6.6"/>
<circle cx="866.5" cy="479.8" r="6.6"/>
<circle cx="1080.5" cy="489.5" r="6.6"/>
<circle cx="1095.8" cy="492.8" r="6.6"/>
<circle cx="1133.2" cy="492.8" r="6.6"/>
<circle cx="1007.2" cy="496.2" r="6.6"/>
<circle cx="877.2" cy="499.6" r="6.6"/>
<circle cx="1062.3" cy="502.7" r="6.6"/>
<circle cx="1030.5" cy="515.8" r="6.6"/>
<circle cx="1031.7" cy="519.2" r="6.6"/>
<circle cx="1090.8" cy="515.8" r="6.6"/>
<circle cx="1070.5" cy="519.2" r="6.6"/>
<circle cx="1102.8" cy="525.5" r="6.6"/>
<circle cx="1125.5" cy="542.3" r="6.6"/>
<circle cx="909.3" cy="558.5" r="6.6"/>
<circle cx="1106.7" cy="558.5" r="6.6"/>
<circle cx="999.5" cy="575.0" r="6.6"/>
<circle cx="1124.2" cy="571.5" r="6.6"/>
<circle cx="1028.5" cy="581.5" r="6.6"/>
<circle cx="1033.2" cy="594.5" r="6.6"/>
<circle cx="1102.2" cy="630.5" r="6.6"/>
<circle cx="1013.2" cy="660.0" r="6.6"/>
<circle cx="1036.0" cy="715.5" r="6.6"/>
<circle cx="1021.8" cy="728.8" r="6.6"/>
<circle cx="1079.5" cy="771.2" r="6.6"/>
<circle cx="1171.5" cy="201.5" r="6.6"/>
<circle cx="1252.2" cy="201.5" r="6.6"/>
<circle cx="1251.5" cy="211.7" r="6.6"/>
<circle cx="1147.5" cy="224.8" r="6.6"/>
<circle cx="1190.3" cy="228.1" r="6.6"/>
<circle cx="1294.5" cy="221.3" r="6.6"/>
<circle cx="1155.8" cy="240.8" r="6.6"/>
<circle cx="1203.5" cy="244.2" r="6.6"/>
<circle cx="1184.0" cy="247.6" r="6.6"/>
<circle cx="1177.2" cy="254.3" r="6.6"/>
<circle cx="1223.3" cy="251.0" r="6.6"/>
<circle cx="1301.3" cy="254.0" r="6.6"/>
<circle cx="1325.8" cy="251.0" r="6.6"/>
<circle cx="1338.2" cy="257.4" r="6.6"/>
<circle cx="1418.0" cy="237.5" r="6.6"/>
<circle cx="1424.0" cy="234.5" r="6.6"/>
<circle cx="1424.3" cy="257.4" r="6.6"/>
<circle cx="1141.2" cy="270.2" r="6.6"/>
<circle cx="1185.5" cy="267.1" r="6.6"/>
<circle cx="1186.2" cy="277.2" r="6.6"/>
<circle cx="1200.2" cy="277.2" r="6.6"/>
<circle cx="1238.8" cy="273.8" r="6.6"/>
<circle cx="1264.0" cy="280.2" r="6.6"/>
<circle cx="1290.5" cy="277.2" r="6.6"/>
<circle cx="1332.2" cy="277.2" r="6.6"/>
<circle cx="1147.5" cy="280.2" r="6.6"/>
<circle cx="1154.0" cy="290.0" r="6.6"/>
<circle cx="1163.8" cy="293.0" r="6.6"/>
<circle cx="1362.0" cy="286.7" r="6.6"/>
<circle cx="1407.5" cy="286.7" r="6.6"/>
<circle cx="1419.5" cy="290.0" r="6.6"/>
<circle cx="1418.5" cy="296.8" r="6.6"/>
<circle cx="1314.8" cy="293.0" r="6.6"/>
<circle cx="1175.8" cy="296.8" r="6.6"/>
<circle cx="1189.2" cy="296.8" r="6.6"/>
<circle cx="1212.2" cy="296.8" r="6.6"/>
<circle cx="1226.8" cy="299.8" r="6.6"/>
<circle cx="1276.2" cy="300.1" r="6.6"/>
<circle cx="1286.0" cy="300.1" r="6.6"/>
<circle cx="1143.5" cy="303.2" r="6.6"/>
<circle cx="1153.7" cy="303.2" r="6.6"/>
<circle cx="1388.3" cy="306.5" r="6.6"/>
<circle cx="1407.5" cy="303.2" r="6.6"/>
<circle cx="1312.2" cy="306.5" r="6.6"/>
<circle cx="1383.2" cy="310.2" r="6.6"/>
<circle cx="1407.5" cy="310.2" r="6.6"/>
<circle cx="1320.8" cy="316.2" r="6.6"/>
<circle cx="1218.8" cy="319.6" r="6.6"/>
<circle cx="1304.0" cy="323.0" r="6.6"/>
<circle cx="1362.5" cy="323.0" r="6.6"/>
<circle cx="1344.8" cy="326.0" r="6.6"/>
<circle cx="1234.7" cy="329.0" r="6.6"/>
<circle cx="1316.5" cy="329.0" r="6.6"/>
<circle cx="1396.5" cy="329.0" r="6.6"/>
<circle cx="1361.8" cy="327.8" r="6.6"/>
<circle cx="1157.8" cy="332.0" r="6.6"/>
<circle cx="1153.2" cy="335.8" r="6.6"/>
<circle cx="1149.5" cy="342.5" r="6.6"/>
<circle cx="1347.2" cy="332.3" r="6.6"/>
<circle cx="1367.0" cy="329.8" r="6.6"/>
<circle cx="1377.5" cy="332.8" r="6.6"/>
<circle cx="1173.8" cy="345.5" r="6.6"/>
<circle cx="1220.0" cy="341.8" r="6.6"/>
<circle cx="1221.5" cy="344.0" r="6.6"/>
<circle cx="1223.0" cy="349.2" r="6.6"/>
<circle cx="1219.7" cy="352.2" r="6.6"/>
<circle cx="1244.8" cy="345.5" r="6.6"/>
<circle cx="1285.5" cy="345.5" r="6.6"/>
<circle cx="1307.0" cy="345.5" r="6.6"/>
<circle cx="1302.5" cy="351.5" r="6.6"/>
<circle cx="1379.8" cy="352.2" r="6.6"/>
<circle cx="1316.0" cy="355.2" r="6.6"/>
<circle cx="1312.2" cy="359.0" r="6.6"/>
<circle cx="1298.8" cy="359.0" r="6.6"/>
<circle cx="1331.5" cy="355.2" r="6.6"/>
<circle cx="1366.2" cy="358.7" r="6.6"/>
<circle cx="1350.5" cy="362.0" r="6.6"/>
<circle cx="1404.5" cy="355.2" r="6.6"/>
<circle cx="1414.2" cy="355.2" r="6.6"/>
<circle cx="1415.0" cy="362.0" r="6.6"/>
<circle cx="1424.0" cy="352.2" r="6.6"/>
<circle cx="1226.3" cy="362.0" r="6.6"/>
<circle cx="1261.2" cy="362.0" r="6.6"/>
<circle cx="1172.8" cy="365.0" r="6.6"/>
<circle cx="1211.0" cy="368.3" r="6.6"/>
<circle cx="1401.5" cy="368.3" r="6.6"/>
<circle cx="1371.5" cy="371.8" r="6.6"/>
<circle cx="1308.5" cy="371.8" r="6.6"/>
<circle cx="1422.0" cy="371.8" r="6.6"/>
<circle cx="1257.5" cy="375.1" r="6.6"/>
<circle cx="1220.5" cy="374.8" r="6.6"/>
<circle cx="1220.0" cy="378.5" r="6.6"/>
<circle cx="1376.8" cy="381.5" r="6.6"/>
<circle cx="1281.5" cy="381.5" r="6.6"/>
<circle cx="1316.0" cy="384.8" r="6.6"/>
<circle cx="1327.2" cy="388.2" r="6.6"/>
<circle cx="1189.7" cy="391.2" r="6.6"/>
<circle cx="1241.0" cy="394.6" r="6.6"/>
<circle cx="1157.5" cy="395.0" r="6.6"/>
<circle cx="1403.5" cy="394.6" r="6.6"/>
<circle cx="1343.8" cy="398.0" r="6.6"/>
<circle cx="1143.5" cy="401.8" r="6.6"/>
<circle cx="1220.0" cy="402.2" r="6.6"/>
<circle cx="1220.0" cy="406.2" r="6.6"/>
<circle cx="1278.5" cy="404.0" r="6.6"/>
<circle cx="1398.0" cy="404.8" r="6.6"/>
<circle cx="1352.0" cy="407.8" r="6.6"/>
<circle cx="1205.0" cy="410.8" r="6.6"/>
<circle cx="1216.2" cy="408.8" r="6.6"/>
<circle cx="1271.0" cy="408.5" r="6.6"/>
<circle cx="1287.5" cy="411.5" r="6.6"/>
<circle cx="1289.8" cy="416.8" r="6.6"/>
<circle cx="1154.8" cy="414.5" r="6.6"/>
<circle cx="1151.0" cy="418.2" r="6.6"/>
<circle cx="1181.0" cy="421.2" r="6.6"/>
<circle cx="1344.5" cy="423.5" r="6.6"/>
<circle cx="1394.0" cy="423.5" r="6.6"/>
<circle cx="1300.2" cy="424.2" r="6.6"/>
<circle cx="1270.2" cy="424.2" r="6.6"/>
<circle cx="1265.0" cy="430.2" r="6.6"/>
<circle cx="1196.0" cy="431.0" r="6.6"/>
<circle cx="1313.8" cy="431.0" r="6.6"/>
<circle cx="1314.5" cy="434.8" r="6.6"/>
<circle cx="1207.2" cy="434.0" r="6.6"/>
<circle cx="1207.2" cy="440.0" r="6.6"/>
<circle cx="1415.8" cy="437.0" r="6.6"/>
<circle cx="1421.0" cy="438.8" r="6.6"/>
<circle cx="1265.8" cy="440.8" r="6.6"/>
<circle cx="1283.8" cy="440.8" r="6.6"/>
<circle cx="1336.7" cy="443.8" r="6.6"/>
<circle cx="1303.5" cy="450.2" r="6.6"/>
<circle cx="1416.5" cy="450.5" r="6.6"/>
<circle cx="1368.5" cy="463.6" r="6.6"/>
<circle cx="1382.5" cy="463.6" r="6.6"/>
<circle cx="1388.8" cy="469.2" r="6.6"/>
<circle cx="1329.5" cy="466.2" r="6.6"/>
<circle cx="1334.8" cy="465.5" r="6.6"/>
<circle cx="1342.2" cy="470.0" r="6.6"/>
<circle cx="1343.0" cy="473.8" r="6.6"/>
<circle cx="1337.0" cy="477.5" r="6.6"/>
<circle cx="1207.5" cy="470.0" r="6.6"/>
<circle cx="1244.3" cy="470.0" r="6.6"/>
<circle cx="1388.3" cy="476.8" r="6.6"/>
<circle cx="1421.0" cy="479.8" r="6.6"/>
<circle cx="1328.8" cy="483.5" r="6.6"/>
<circle cx="1313.0" cy="486.5" r="6.6"/>
<circle cx="1392.5" cy="489.5" r="6.6"/>
<circle cx="1395.5" cy="493.2" r="6.6"/>
<circle cx="1412.8" cy="489.5" r="6.6"/>
<circle cx="1425.5" cy="496.2" r="6.6"/>
<circle cx="1260.5" cy="493.2" r="6.6"/>
<circle cx="1209.0" cy="491.9" r="6.6"/>
<circle cx="1209.5" cy="495.8" r="6.6"/>
<circle cx="1182.5" cy="493.2" r="6.6"/>
<circle cx="1170.2" cy="496.2" r="6.6"/>
<circle cx="1211.0" cy="503.8" r="6.6"/>
<circle cx="1213.2" cy="509.0" r="6.6"/>
<circle cx="1218.5" cy="512.8" r="6.6"/>
<circle cx="1245.5" cy="506.0" r="6.6"/>
<circle cx="1297.2" cy="509.3" r="6.6"/>
<circle cx="1400.8" cy="512.8" r="6.6"/>
<circle cx="1267.2" cy="522.5" r="6.6"/>
<circle cx="1347.0" cy="522.5" r="6.6"/>
<circle cx="1415.0" cy="525.8" r="6.6"/>
<circle cx="1147.7" cy="529.2" r="6.6"/>
<circle cx="1427.8" cy="535.2" r="6.6"/>
<circle cx="1220.0" cy="542.0" r="6.6"/>
<circle cx="1231.2" cy="545.0" r="6.6"/>
<circle cx="1250.0" cy="545.0" r="6.6"/>
<circle cx="1259.8" cy="545.0" r="6.6"/>
<circle cx="1293.5" cy="545.0" r="6.6"/>
<circle cx="1223.0" cy="552.5" r="6.6"/>
<circle cx="1211.0" cy="555.2" r="6.6"/>
<circle cx="1310.8" cy="555.2" r="6.6"/>
<circle cx="1383.5" cy="555.2" r="6.6"/>
<circle cx="1402.2" cy="551.8" r="6.6"/>
<circle cx="1340.0" cy="561.5" r="6.6"/>
<circle cx="1166.5" cy="564.8" r="6.6"/>
<circle cx="1261.5" cy="564.8" r="6.6"/>
<circle cx="1386.5" cy="564.8" r="6.6"/>
<circle cx="1289.0" cy="571.5" r="6.6"/>
<circle cx="1367.0" cy="575.0" r="6.6"/>
<circle cx="1289.0" cy="581.8" r="6.6"/>
<circle cx="1323.8" cy="611.0" r="6.6"/>
<circle cx="1361.5" cy="617.5" r="6.6"/>
<circle cx="1353.5" cy="624.2" r="6.6"/>
<circle cx="1182.5" cy="627.0" r="6.6"/>
<circle cx="1178.5" cy="633.8" r="6.6"/>
<circle cx="1283.8" cy="637.2" r="6.6"/>
<circle cx="1321.7" cy="640.5" r="6.6"/>
<circle cx="1373.5" cy="660.0" r="6.6"/>
<circle cx="1234.5" cy="686.5" r="6.6"/>
<circle cx="1145.5" cy="692.8" r="6.6"/>
<circle cx="1162.5" cy="758.3" r="6.6"/>
<circle cx="1279.5" cy="715.5" r="6.6"/>
<circle cx="1345.5" cy="702.5" r="6.6"/>
<circle cx="1334.0" cy="712.2" r="6.6"/>
<circle cx="1350.2" cy="735.5" r="6.6"/>
<circle cx="1395.2" cy="728.8" r="6.6"/>
<circle cx="1401.5" cy="748.5" r="6.6"/>
<circle cx="1571.5" cy="231.2" r="6.6"/>
<circle cx="1535.2" cy="234.5" r="6.6"/>
<circle cx="1539.2" cy="251.0" r="6.6"/>
<circle cx="1513.8" cy="254.0" r="6.6"/>
<circle cx="1518.2" cy="257.4" r="6.6"/>
<circle cx="1505.2" cy="257.4" r="6.6"/>
<circle cx="1444.5" cy="260.8" r="6.6"/>
<circle cx="1468.5" cy="270.5" r="6.6"/>
<circle cx="1666.5" cy="277.2" r="6.6"/>
<circle cx="1547.8" cy="280.2" r="6.6"/>
<circle cx="1587.5" cy="280.2" r="6.6"/>
<circle cx="1563.0" cy="286.7" r="6.6"/>
<circle cx="1456.5" cy="290.0" r="6.6"/>
<circle cx="1486.3" cy="290.0" r="6.6"/>
<circle cx="1493.5" cy="299.0" r="6.6"/>
<circle cx="1494.2" cy="306.5" r="6.6"/>
<circle cx="1469.5" cy="306.5" r="6.6"/>
<circle cx="1474.8" cy="313.2" r="6.6"/>
<circle cx="1491.5" cy="319.6" r="6.6"/>
<circle cx="1665.2" cy="323.0" r="6.6"/>
<circle cx="1538.5" cy="342.5" r="6.6"/>
<circle cx="1457.5" cy="348.9" r="6.6"/>
<circle cx="1468.8" cy="348.9" r="6.6"/>
<circle cx="1431.2" cy="355.2" r="6.6"/>
<circle cx="1441.0" cy="355.2" r="6.6"/>
<circle cx="1445.5" cy="368.8" r="6.6"/>
<circle cx="1630.8" cy="351.9" r="6.6"/>
<circle cx="1640.5" cy="348.9" r="6.6"/>
<circle cx="1653.7" cy="348.9" r="6.6"/>
<circle cx="1686.2" cy="351.9" r="6.6"/>
<circle cx="1705.8" cy="345.5" r="6.6"/>
<circle cx="1665.5" cy="365.0" r="6.6"/>
<circle cx="1545.5" cy="368.4" r="6.6"/>
<circle cx="1531.8" cy="371.8" r="6.6"/>
<circle cx="1578.2" cy="371.8" r="6.6"/>
<circle cx="1713.5" cy="375.2" r="6.6"/>
<circle cx="1496.2" cy="378.5" r="6.6"/>
<circle cx="1644.5" cy="381.5" r="6.6"/>
<circle cx="1466.5" cy="384.9" r="6.6"/>
<circle cx="1649.5" cy="391.6" r="6.6"/>
<circle cx="1565.0" cy="391.6" r="6.6"/>
<circle cx="1586.8" cy="394.6" r="6.6"/>
<circle cx="1665.2" cy="395.0" r="6.6"/>
<circle cx="1674.5" cy="395.0" r="6.6"/>
<circle cx="1625.0" cy="398.0" r="6.6"/>
<circle cx="1570.8" cy="401.4" r="6.6"/>
<circle cx="1455.5" cy="401.4" r="6.6"/>
<circle cx="1509.7" cy="401.4" r="6.6"/>
<circle cx="1430.8" cy="404.4" r="6.6"/>
<circle cx="1535.5" cy="413.8" r="6.6"/>
<circle cx="1661.5" cy="414.5" r="6.6"/>
<circle cx="1483.0" cy="417.5" r="6.6"/>
<circle cx="1639.0" cy="420.8" r="6.6"/>
<circle cx="1453.0" cy="423.5" r="6.6"/>
<circle cx="1547.5" cy="424.6" r="6.6"/>
<circle cx="1658.5" cy="427.2" r="6.6"/>
<circle cx="1450.5" cy="429.2" r="6.6"/>
<circle cx="1510.8" cy="430.2" r="6.6"/>
<circle cx="1512.2" cy="431.3" r="6.6"/>
<circle cx="1608.2" cy="431.0" r="6.6"/>
<circle cx="1699.3" cy="431.0" r="6.6"/>
<circle cx="1439.5" cy="434.0" r="6.6"/>
<circle cx="1714.0" cy="437.3" r="6.6"/>
<circle cx="1552.5" cy="440.8" r="6.6"/>
<circle cx="1437.2" cy="441.5" r="6.6"/>
<circle cx="1600.0" cy="446.8" r="6.6"/>
<circle cx="1647.7" cy="446.8" r="6.6"/>
<circle cx="1566.7" cy="449.0" r="6.6"/>
<circle cx="1468.5" cy="449.8" r="6.6"/>
<circle cx="1433.5" cy="452.8" r="6.6"/>
<circle cx="1448.5" cy="453.5" r="6.6"/>
<circle cx="1430.5" cy="460.2" r="6.6"/>
<circle cx="1443.2" cy="463.2" r="6.6"/>
<circle cx="1436.5" cy="467.0" r="6.6"/>
<circle cx="1532.5" cy="456.9" r="6.6"/>
<circle cx="1487.2" cy="463.6" r="6.6"/>
<circle cx="1580.5" cy="460.2" r="6.6"/>
<circle cx="1609.0" cy="456.9" r="6.6"/>
<circle cx="1635.2" cy="463.6" r="6.6"/>
<circle cx="1699.3" cy="467.0" r="6.6"/>
<circle cx="1581.7" cy="473.3" r="6.6"/>
<circle cx="1600.8" cy="479.8" r="6.6"/>
<circle cx="1463.2" cy="483.5" r="6.6"/>
<circle cx="1697.8" cy="486.5" r="6.6"/>
<circle cx="1611.2" cy="496.6" r="6.6"/>
<circle cx="1575.7" cy="499.6" r="6.6"/>
<circle cx="1683.2" cy="499.6" r="6.6"/>
<circle cx="1675.0" cy="503.0" r="6.6"/>
<circle cx="1699.3" cy="503.0" r="6.6"/>
<circle cx="1480.5" cy="506.0" r="6.6"/>
<circle cx="1551.7" cy="506.0" r="6.6"/>
<circle cx="1693.0" cy="509.3" r="6.6"/>
<circle cx="1713.2" cy="508.7" r="6.6"/>
<circle cx="1714.8" cy="509.9" r="6.6"/>
<circle cx="1616.5" cy="512.8" r="6.6"/>
<circle cx="1632.5" cy="512.8" r="6.6"/>
<circle cx="1520.8" cy="519.2" r="6.6"/>
<circle cx="1622.8" cy="522.2" r="6.6"/>
<circle cx="1666.3" cy="522.5" r="6.6"/>
<circle cx="1700.2" cy="525.8" r="6.6"/>
<circle cx="1439.0" cy="532.2" r="6.6"/>
<circle cx="1580.2" cy="555.2" r="6.6"/>
<circle cx="1594.5" cy="555.2" r="6.6"/>
<circle cx="1558.5" cy="561.5" r="6.6"/>
<circle cx="1593.2" cy="565.2" r="6.6"/>
<circle cx="1582.0" cy="575.0" r="6.6"/>
<circle cx="1453.3" cy="578.3" r="6.6"/>
<circle cx="1705.0" cy="575.0" r="6.6"/>
<circle cx="1676.5" cy="584.8" r="6.6"/>
<circle cx="1575.2" cy="597.5" r="6.6"/>
<circle cx="1528.0" cy="611.0" r="6.6"/>
<circle cx="1574.5" cy="620.8" r="6.6"/>
<circle cx="1637.5" cy="617.5" r="6.6"/>
<circle cx="1676.8" cy="633.8" r="6.6"/>
<circle cx="1703.5" cy="643.5" r="6.6"/>
<circle cx="1580.5" cy="647.0" r="6.6"/>
<circle cx="1546.5" cy="650.3" r="6.6"/>
<circle cx="1617.5" cy="656.8" r="6.6"/>
<circle cx="1667.0" cy="787.2" r="6.6"/>
<circle cx="1733.7" cy="251.0" r="6.6"/>
<circle cx="1747.8" cy="283.6" r="6.6"/>
<circle cx="1727.0" cy="290.0" r="6.6"/>
<circle cx="1871.5" cy="290.0" r="6.6"/>
<circle cx="1943.0" cy="290.0" r="6.6"/>
<circle cx="1738.2" cy="316.2" r="6.6"/>
<circle cx="1799.7" cy="312.9" r="6.6"/>
<circle cx="1781.2" cy="335.8" r="6.6"/>
<circle cx="1874.2" cy="348.9" r="6.6"/>
<circle cx="1732.5" cy="355.6" r="6.6"/>
<circle cx="1909.2" cy="355.6" r="6.6"/>
<circle cx="1902.0" cy="359.0" r="6.6"/>
<circle cx="1834.5" cy="362.0" r="6.6"/>
<circle cx="1919.2" cy="368.8" r="6.6"/>
<circle cx="1935.0" cy="372.1" r="6.6"/>
<circle cx="1795.5" cy="388.2" r="6.6"/>
<circle cx="1856.7" cy="388.2" r="6.6"/>
<circle cx="1773.3" cy="391.6" r="6.6"/>
<circle cx="1791.3" cy="398.0" r="6.6"/>
<circle cx="1733.2" cy="401.4" r="6.6"/>
<circle cx="1877.5" cy="401.4" r="6.6"/>
<circle cx="1852.8" cy="414.2" r="6.6"/>
<circle cx="1866.8" cy="424.2" r="6.6"/>
<circle cx="1746.5" cy="427.2" r="6.6"/>
<circle cx="1825.0" cy="427.2" r="6.6"/>
<circle cx="1789.5" cy="430.6" r="6.6"/>
<circle cx="1752.5" cy="434.3" r="6.6"/>
<circle cx="1845.8" cy="440.8" r="6.6"/>
<circle cx="1866.5" cy="447.5" r="6.6"/>
<circle cx="1920.5" cy="447.5" r="6.6"/>
<circle cx="1752.0" cy="450.1" r="6.6"/>
<circle cx="1819.5" cy="470.0" r="6.6"/>
<circle cx="1726.8" cy="473.3" r="6.6"/>
<circle cx="1768.5" cy="473.3" r="6.6"/>
<circle cx="1763.0" cy="483.5" r="6.6"/>
<circle cx="1909.5" cy="473.8" r="6.6"/>
<circle cx="1839.3" cy="496.6" r="6.6"/>
<circle cx="1908.5" cy="496.6" r="6.6"/>
<circle cx="1907.5" cy="506.4" r="6.6"/>
<circle cx="1728.3" cy="499.2" r="6.6"/>
<circle cx="1807.2" cy="509.0" r="6.6"/>
<circle cx="1803.8" cy="516.0" r="6.6"/>
<circle cx="1824.3" cy="548.8" r="6.6"/>
<circle cx="1815.5" cy="555.2" r="6.6"/>
<circle cx="1913.5" cy="555.2" r="6.6"/>
<circle cx="1853.2" cy="561.5" r="6.6"/>
<circle cx="1727.2" cy="581.5" r="6.6"/>
<circle cx="1772.5" cy="578.3" r="6.6"/>
<circle cx="1852.5" cy="578.3" r="6.6"/>
<circle cx="1778.7" cy="601.2" r="6.6"/>
<circle cx="1903.5" cy="594.5" r="6.6"/>
<circle cx="1863.3" cy="640.5" r="6.6"/>
<circle cx="1808.7" cy="719.0" r="6.6"/>
<circle cx="1806.8" cy="729.0" r="6.6"/>
<circle cx="840.6" cy="283.9" r="6.6"/>
<circle cx="790.2" cy="394.6" r="6.6"/>
</g>
<line x1="155.2" y1="236.0" x2="1999.6" y2="340.5" stroke="#ff0000" stroke-width="2.3" stroke-dasharray="8.75 3.7"/>
<line x1="155.2" y1="443.9" x2="1999.6" y2="548.4" stroke="#ff0000" stroke-width="2.3" stroke-dasharray="8.75 3.7"/>
<line x1="155.2" y1="298.4" x2="1999.6" y2="430.5" stroke="#0000ff" stroke-width="2.3" stroke-dasharray="8.75 3.7"/>
<line x1="155.2" y1="374.9" x2="1999.6" y2="522.3" stroke="#0000ff" stroke-width="2.3" stroke-dasharray="8.75 3.7"/>
<line x1="155.2" y1="339.8" x2="1999.6" y2="444.6" stroke="#ff0000" stroke-width="5"/>
<line x1="155.2" y1="338.0" x2="1999.6" y2="475.9" stroke="#0000ff" stroke-width="5"/>
</g>
<rect x="155.2" y="2.2" width="1844.4" height="785.4" fill="none" stroke="#000" stroke-width="4.7"/>
<path d="M292.75 787.6V801.9M568.00 787.6V801.9M843.25 787.6V801.9M1118.50 787.6V801.9M1393.75 787.6V801.9M1669.00 787.6V801.9M1944.25 787.6V801.9M155.2 722.30H140.9M155.2 558.65H140.9M155.2 395.00H140.9M155.2 231.35H140.9M155.2 67.70H140.9" stroke="#000" stroke-width="4.6" fill="none"/>
<text x="283.38" y="837.0" font-size="39.6" textLength="18.75" lengthAdjust="spacingAndGlyphs">6</text>
<text x="558.62" y="837.0" font-size="39.6" textLength="18.75" lengthAdjust="spacingAndGlyphs">7</text>
<text x="833.88" y="837.0" font-size="39.6" textLength="18.75" lengthAdjust="spacingAndGlyphs">8</text>
<text x="1109.12" y="837.0" font-size="39.6" textLength="18.75" lengthAdjust="spacingAndGlyphs">9</text>
<text x="1375.00" y="837.0" font-size="39.6" textLength="37.50" lengthAdjust="spacingAndGlyphs">10</text>
<text x="1650.94" y="837.0" font-size="39.6" textLength="36.11" lengthAdjust="spacingAndGlyphs">11</text>
<text x="1925.50" y="837.0" font-size="39.6" textLength="37.50" lengthAdjust="spacingAndGlyphs">12</text>
<text font-size="39.4"><tspan x="56.22" y="738.36" font-size="36.0" textLength="28.50" lengthAdjust="spacingAndGlyphs">−</tspan><tspan x="85.07" y="735.30" textLength="48.12" lengthAdjust="spacingAndGlyphs">1.0</tspan></text>
<text font-size="39.4"><tspan x="56.22" y="574.71" font-size="36.0" textLength="28.50" lengthAdjust="spacingAndGlyphs">−</tspan><tspan x="85.07" y="571.65" textLength="48.12" lengthAdjust="spacingAndGlyphs">0.5</tspan></text>
<text font-size="39.4"><tspan x="85.07" y="408.00" textLength="48.12" lengthAdjust="spacingAndGlyphs">0.0</tspan></text>
<text font-size="39.4"><tspan x="85.07" y="244.35" textLength="48.12" lengthAdjust="spacingAndGlyphs">0.5</tspan></text>
<text font-size="39.4"><tspan x="85.07" y="80.70" textLength="48.12" lengthAdjust="spacingAndGlyphs">1.0</tspan></text>
<text><tspan x="983.70" y="888.40" font-size="49.40" textLength="33.65" lengthAdjust="spacingAndGlyphs" font-style="italic">R</tspan><tspan x="1015.87" y="894.90" font-size="33.30" textLength="51.69" lengthAdjust="spacingAndGlyphs">Gal</tspan> <tspan x="1084.99" y="893.00" font-size="57.70" textLength="9.56" lengthAdjust="spacingAndGlyphs">[</tspan><tspan x="1094.36" y="888.40" font-size="47.80" textLength="67.94" lengthAdjust="spacingAndGlyphs">kpc</tspan><tspan x="1160.60" y="893.00" font-size="57.70" textLength="9.99" lengthAdjust="spacingAndGlyphs">]</tspan></text>
<text transform="rotate(-90)"><tspan x="-452.68" y="39.70" font-size="57.30" textLength="9.41" lengthAdjust="spacingAndGlyphs">[</tspan><tspan x="-443.33" y="34.70" font-size="48.90" textLength="44.30" lengthAdjust="spacingAndGlyphs">Fe</tspan><tspan x="-397.60" y="45.30" font-size="71.00" textLength="16.18" lengthAdjust="spacingAndGlyphs">/</tspan><tspan x="-377.77" y="34.70" font-size="48.90" textLength="30.64" lengthAdjust="spacingAndGlyphs">H</tspan><tspan x="-347.08" y="39.70" font-size="57.30" textLength="9.84" lengthAdjust="spacingAndGlyphs">]</tspan></text>
<line x1="1583.2" y1="49.4" x2="1663.6" y2="49.4" stroke="#ff0000" stroke-width="5"/>
<line x1="1583.2" y1="102.2" x2="1663.6" y2="102.2" stroke="#0000ff" stroke-width="5"/>
<text><tspan x="1691.89" y="63.50" font-size="39.10" textLength="71.74" lengthAdjust="spacingAndGlyphs">This</tspan> <tspan x="1777.10" y="63.50" font-size="39.10" textLength="75.70" lengthAdjust="spacingAndGlyphs">work</tspan></text>
<text><tspan x="1689.90" y="115.60" font-size="39.10" textLength="91.12" lengthAdjust="spacingAndGlyphs">Spina</tspan> <tspan x="1792.98" y="115.60" font-size="39.10" textLength="29.19" lengthAdjust="spacingAndGlyphs">et</tspan> <tspan x="1835.82" y="115.60" font-size="39.10" textLength="38.42" lengthAdjust="spacingAndGlyphs">al.</tspan> <tspan x="1890.99" y="115.60" font-size="39.10" textLength="75.26" lengthAdjust="spacingAndGlyphs">2022</tspan></text>
</svg></body></html>
